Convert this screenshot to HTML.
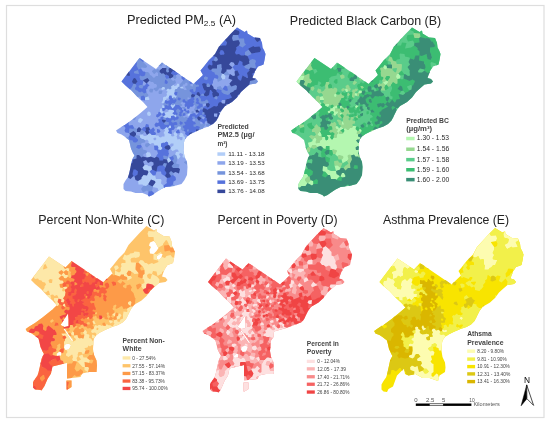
<!DOCTYPE html>
<html><head><meta charset="utf-8"><title>Philadelphia maps</title>
<style>
html,body{margin:0;padding:0;background:#fff;width:550px;height:424px;overflow:hidden}
svg{display:block}
text{font-family:'Liberation Sans',Arial,sans-serif}
.t{font-size:12.4px;fill:#222}
.lh{font-weight:bold;fill:#444}
.ll{fill:#444}
.sb{font-size:6px;fill:#555}
.na{fill:#000}
</style></head><body>
<svg width="550" height="424" viewBox="0 0 550 424">
<rect width="550" height="424" fill="#fff"/>
<rect x="6.5" y="5.5" width="537.5" height="412" fill="none" stroke="#dedede" stroke-width="1.2"/>
<g transform="scale(0.5)">
<path fill="#8ea6ec" d="M279 116L243 163L251 171L263 181L275 194L286 204L295 214L281 226L266 238L251 249L238 257L232 261L235 266L243 269L249 273L258 280L260 288L262 297L266 306L269 311L266 316L264 321L261 335L258 348L256 354L251 361L247 368L247 378L251 382L262 383L271 386L285 386L295 390L298 393L305 390L312 385L321 379L331 374L340 373L352 371L363 368L369 360L374 350L375 334L374 324L369 313L367 301L368 285L369 280L374 273L381 268L391 263L405 257L417 253L426 248L433 241L438 231L443 221L450 212L459 207L464 204L474 195L482 184L492 175L499 169L512 167L516 163L512 158L505 156L507 150L510 142L516 133L522 131L527 129L529 120L531 108L529 103L525 95L524 86L520 76L508 75L495 67L494 61L489 64L474 55L461 68L449 81L438 93L430 108L418 120L407 134L401 141L406 150L387 168L324 125L312 138Z"/>
<path fill="#b2cef8" d="M298 200L299 198L296 192L289 194L290 200ZM301 225L298 223L297 223L294 226L295 231L299 232L302 230ZM286 239L281 236L277 238L276 244L281 246L286 240ZM294 269L293 272L288 272L284 268L282 268L279 272L279 275L284 279L286 278L290 281L294 279L297 282L297 286L300 289L304 286L308 287L309 292L314 292L316 295L315 299L323 301L326 295L323 292L323 288L327 286L328 287L333 284L335 285L336 291L338 292L342 287L347 287L347 288L347 291L341 295L340 297L345 302L350 300L351 299L355 299L358 303L352 304L350 310L352 311L354 319L356 319L361 313L358 309L360 306L366 308L365 314L366 315L370 315L369 313L367 301L368 285L369 280L371 277L372 275L367 272L367 269L364 266L361 266L358 272L360 274L365 274L365 279L362 281L359 278L355 279L353 272L354 272L355 267L352 263L350 263L347 267L349 272L344 273L342 271L342 267L336 266L339 262L338 258L342 256L343 252L341 250L339 250L336 255L332 253L328 258L330 261L327 266L329 268L329 273L324 273L322 275L318 274L317 271L312 271L311 269L304 269L303 267L299 265ZM307 276L311 275L313 278L310 281L307 279ZM302 310L300 305L293 304L292 306L293 315L300 315L302 313ZM294 350L287 349L282 355L282 357L276 361L277 369L285 369L287 372L293 373L298 369L298 368L303 360L309 362L310 365L304 373L305 374L315 376L317 381L318 381L321 379L328 375L327 371L322 367L323 360L321 358L312 358L310 350L306 350L300 343L305 339L304 333L296 332L295 330L289 330L284 335L288 341L294 342L296 344ZM325 173L322 177L324 180L330 178L330 174L329 173ZM332 180L335 183L335 184L333 187L334 190L331 194L330 193L326 195L326 200L323 206L328 207L330 205L331 202L332 201L333 197L338 197L339 192L343 192L344 197L346 197L348 195L351 197L354 194L353 190L350 190L349 187L351 184L350 182L352 178L355 179L357 174L360 174L361 177L366 178L367 176L364 172L360 173L359 169L356 167L354 168L353 171L349 172L346 169L341 172L342 177L340 178L336 176ZM324 228L327 225L327 223L326 222L325 217L330 217L330 211L328 210L324 211L325 217L321 217L320 218L320 222L318 224L323 228ZM326 234L332 237L335 236L337 237L341 237L343 235L343 233L348 232L349 235L351 235L354 233L353 229L350 229L349 229L346 227L348 224L349 221L345 219L344 219L339 218L337 220L337 223L328 226L330 230L326 232ZM333 319L335 326L336 326L344 322L339 315L337 314ZM345 218L349 215L352 210L349 207L346 210L343 207L342 208L340 211ZM451 151L447 147L443 147L441 154L444 159L450 158ZM375 231L379 233L382 228L377 226L376 226ZM363 254L361 252L355 252L353 256L356 260L357 260L362 258ZM384 264L384 265L384 266L389 264Z"/>
<path fill="#7694dc" d="M267 142L268 146L269 148L279 149L276 139L282 137L283 135L291 136L294 134L294 132L281 118L282 118L279 116L272 125L273 128L272 131L276 139ZM281 161L287 162L294 157L302 164L306 164L309 168L312 168L314 171L313 175L308 176L307 178L312 183L317 180L317 178L320 176L323 177L325 174L329 174L330 178L332 180L336 177L340 179L343 177L342 173L352 166L351 162L350 160L346 162L341 157L338 155L333 157L331 153L332 150L326 145L324 147L320 144L320 140L315 138L312 140L309 138L304 142L304 143L308 148L309 148L313 144L316 146L316 152L312 152L308 156L305 154L304 152L300 150L299 147L296 144L290 144L290 150L285 153L280 150L278 154ZM329 167L331 161L332 160L335 164L333 167ZM287 192L290 195L296 193L297 190L293 185L288 186L285 182L280 185L277 184L276 181L271 179L271 176L274 172L271 167L266 166L263 173L260 178L263 181L275 194ZM280 169L276 172L279 177L286 178L287 172L285 169ZM266 240L270 240L273 233L266 238L265 239ZM272 266L275 263L274 258L268 255L266 257L259 257L257 266L259 268L267 263ZM283 258L282 258L279 264L282 269L284 269L290 263ZM284 278L280 275L280 272L272 270L268 273L275 280L275 282L272 284L267 285L265 281L259 279L258 274L251 275L258 280L260 288L262 297L266 306L269 311L266 316L266 317L266 320L273 318L274 312L275 311L278 311L282 316L286 314L287 308L293 306L294 304L293 301L286 299L285 294L284 294L278 297L273 295L275 291L282 290L283 286L290 285L291 281L286 278ZM297 286L291 287L290 292L294 295L301 289ZM306 374L305 372L297 368L292 372L287 371L282 378L286 385L294 381L298 384L304 382ZM323 133L326 128L327 127L324 125L317 132ZM334 146L339 144L338 138L339 137L342 137L332 130L331 136L332 137L331 142ZM307 178L301 177L299 179L298 182L301 185L305 185ZM318 181L317 186L318 188L323 188L325 183L324 181ZM346 211L349 208L351 211L357 210L358 213L360 214L365 210L361 207L362 205L365 204L366 200L368 199L369 199L371 203L375 204L376 203L376 200L375 198L375 195L378 195L380 198L383 197L384 194L383 191L385 189L384 184L381 183L380 182L381 179L385 179L386 183L389 184L392 183L393 175L399 174L399 171L396 168L392 169L389 166L387 168L386 167L386 173L381 172L381 167L379 165L380 163L369 156L369 160L367 160L363 165L359 169L359 173L356 174L354 178L351 178L349 182L350 185L354 185L353 190L353 194L351 196L348 194L345 197L347 201L351 199L352 200L352 202L349 206L345 205L342 208ZM360 174L365 173L366 169L369 169L372 165L375 167L375 171L371 172L370 174L373 178L373 180L369 180L366 177L361 177ZM356 198L357 196L359 195L361 197L361 198L359 200L358 200ZM327 206L327 211L330 212L333 211L335 213L338 211L338 207L336 206L333 207L330 205ZM333 236L326 234L325 240L331 241ZM353 245L354 248L354 250L348 249L347 252L349 256L354 256L356 253L361 253L362 254L361 258L365 262L368 261L369 257L366 254L368 251L372 251L372 250L370 245L374 244L374 240L375 239L376 236L372 233L369 235L367 235L366 231L368 226L366 224L363 225L362 228L363 230L361 232L358 230L360 227L359 225L362 223L362 220L359 219L356 216L351 221L352 225L354 226L354 228L352 230L353 234L355 234L357 236L354 239L352 238L349 241L346 238L342 241L341 243L343 246L348 246L349 245ZM360 243L365 245L365 247L361 249L360 247ZM327 247L329 250L332 251L333 250L339 250L337 243L334 243L332 242L327 245ZM328 310L325 312L327 319L334 319L337 315L336 312ZM324 331L331 336L335 326L328 325ZM347 345L341 341L337 346L341 352L347 351ZM346 368L339 372L339 373L340 373L350 372ZM345 154L350 159L353 155L352 151L346 150ZM357 337L359 329L352 327L355 319L355 318L353 311L350 309L346 310L345 312L347 318L344 322L347 327L342 331L346 337ZM388 204L385 207L387 210L390 210L391 213L390 215L388 220L391 222L395 220L396 217L394 214L398 211L399 209L392 206L394 204L393 199L395 197L397 201L396 203L399 208L403 207L405 209L410 207L412 208L417 207L418 202L415 198L413 198L410 199L409 202L404 202L403 200L403 198L399 193L399 192L394 189L389 190L389 192L387 194L388 199L386 201ZM365 214L364 216L368 218L371 218L370 214ZM384 229L388 227L387 222L383 223L383 228ZM372 222L371 222L368 226L371 229L375 227ZM386 254L392 255L393 253L396 252L399 254L396 259L397 260L404 258L406 256L411 249L409 248L406 247L402 249L400 246L400 243L399 241L397 240L395 235L391 236L389 232L385 232L383 234L385 238L390 238L390 241L389 243L391 247L390 248L386 249ZM373 259L373 264L377 264L380 260L376 257ZM368 324L368 325L373 329L374 329L374 324L373 323L373 321ZM493 89L490 85L489 76L479 76L477 69L465 70L463 76L466 83L476 81L479 86L478 91L485 97ZM494 112L503 108L504 107L498 99L489 103L489 111ZM432 124L436 121L435 114L430 112L426 121ZM501 136L511 137L513 135L511 126L513 124L512 119L505 117L498 121L497 123L498 127L488 131L489 137L499 139ZM424 136L422 139L423 144L428 145L430 150L434 150L436 154L434 157L435 162L436 164L445 159L442 154L444 147L443 145L445 137L443 135L444 128L442 127L433 130L434 136ZM447 147L450 151L459 150L459 149L453 141ZM408 155L407 158L408 160L414 161L417 156L416 154L411 153ZM508 160L499 161L498 168L498 169L499 169L512 167L516 163L512 158L511 157ZM412 172L413 175L419 175L421 170L416 165L412 168ZM452 182L446 177L445 178L441 172L434 174L434 179L442 181L442 185L448 189L449 189L456 191L461 188L461 187L468 184L469 182L474 180L475 171L471 169L463 172L460 170L453 173L455 181ZM409 191L409 188L404 186L400 190L399 192L407 193ZM434 200L436 197L436 192L432 191L427 194L429 197ZM399 217L401 220L405 220L408 217L407 214L406 213L400 214ZM410 229L410 224L406 223L404 225L404 229L400 229L398 233L402 237L403 237L406 232L406 231ZM414 253L417 253L422 250L421 247L416 246L411 250Z"/>
<path fill="#5672dc" d="M288 122L281 117L280 119L286 124ZM252 151L243 163L251 171L260 179L264 174L267 167L265 163L268 158L271 158L274 163L271 168L273 172L270 176L270 179L276 182L277 184L280 185L284 183L288 187L293 185L292 179L295 177L295 174L299 171L294 166L293 166L290 171L287 171L285 177L279 176L277 172L280 170L285 170L287 161L281 160L279 154L280 151L285 153L290 151L291 145L289 143L286 143L282 137L277 139L273 131L274 128L273 124L258 144L259 150L259 151ZM268 146L268 143L276 140L278 148L270 147ZM290 200L290 194L287 191L281 193L282 200L290 201ZM317 224L316 228L313 229L312 233L315 235L320 232L324 228L319 223ZM241 255L248 252L251 256L249 261L251 265L258 266L259 257L267 258L268 255L265 250L258 251L257 248L258 244L251 249L241 255ZM320 253L321 257L325 259L329 258L333 254L336 256L339 251L341 251L342 252L342 256L336 257L338 262L336 265L336 266L342 268L344 267L343 261L345 260L347 260L350 256L348 252L349 250L354 250L355 248L353 244L349 244L348 245L344 245L342 242L346 239L349 242L352 239L354 240L358 236L356 233L353 233L351 235L350 234L348 231L342 232L342 235L341 237L337 236L336 235L334 235L332 236L331 240L331 242L334 244L337 244L338 249L332 250L329 249L328 247L328 245L325 241L326 239L327 234L326 233L331 230L329 226L327 225L324 228L326 233L321 234L321 237L316 239L318 244L316 246L312 245L309 249L310 253L314 254L317 252ZM289 263L290 263L293 261L292 255L298 254L297 249L292 248L290 254L287 254L283 259ZM298 266L302 268L303 270L311 270L312 266L308 263L310 260L307 255L306 255L302 259L299 258L296 261ZM260 269L257 274L259 280L265 281L267 285L272 285L276 282L276 279L269 273ZM282 290L275 290L272 295L278 298L284 294ZM316 307L313 311L313 314L317 317L319 322L326 322L328 319L326 312L328 311L336 313L338 307L337 305L337 299L331 297L330 295L332 293L337 291L336 285L333 283L328 286L327 285L322 287L322 293L325 296L322 300L316 299L317 295L315 291L309 291L308 292L309 300L314 301ZM267 320L266 316L264 321L262 330L266 325L265 321ZM313 343L322 343L323 348L331 353L334 346L330 340L332 337L331 335L325 330L319 330L314 332L312 342L305 338L299 343L306 351L310 351L311 350ZM269 353L275 350L277 343L276 341L271 338L266 338L264 348L267 353ZM297 383L296 391L298 393L305 390L308 388L308 386L304 382ZM330 153L333 158L339 156L339 151L333 148L331 150ZM332 159L330 160L329 167L334 168L336 164ZM329 205L333 208L336 207L337 207L337 211L336 212L333 210L329 211L329 216L325 216L324 217L325 222L326 223L331 220L331 218L333 218L338 220L339 219L345 220L348 221L348 224L345 226L345 227L349 230L350 229L353 230L355 229L355 226L353 225L352 221L356 217L358 219L361 221L361 223L358 225L359 227L357 230L361 233L364 231L363 228L364 225L366 225L367 221L371 223L372 223L375 227L376 227L378 227L379 223L377 220L373 222L372 218L370 217L368 218L367 221L364 219L364 216L361 214L358 210L351 210L348 214L345 217L341 211L345 206L349 207L353 202L353 199L351 198L347 200L346 197L344 196L343 191L339 191L337 196L339 199L340 200L335 202L332 200L330 201ZM321 263L319 259L314 258L314 265L318 266ZM344 322L348 318L346 312L338 315L343 322ZM346 369L347 363L351 361L352 359L351 354L346 350L341 352L340 354L334 355L333 363L334 366L327 371L328 376L331 374L340 373ZM345 140L341 146L342 147L347 150L351 151L356 148L360 150L361 150L348 141ZM367 161L369 160L370 156L363 152L363 157ZM354 190L355 184L350 184L348 186L350 191L353 191ZM362 198L361 196L359 195L356 195L355 199L358 201L359 201ZM370 214L374 213L374 217L377 218L379 217L380 214L382 213L384 214L388 210L386 207L389 204L387 201L389 199L388 194L383 194L382 197L375 200L375 202L375 203L371 202L370 199L368 198L365 200L365 203L366 205L369 205L371 208L369 209ZM369 226L367 226L365 231L366 232L371 231L371 228ZM367 251L365 254L369 258L367 261L371 264L370 268L374 271L373 274L371 275L370 279L374 273L379 270L379 267L385 265L388 265L391 263L393 262L393 260L397 260L400 254L396 252L392 252L391 254L387 253L387 249L390 249L392 247L389 243L387 243L384 240L386 238L384 234L385 233L389 233L391 237L395 236L396 234L398 234L400 230L405 230L404 226L407 223L406 219L401 219L397 225L397 226L393 230L391 229L391 227L388 226L384 228L381 228L378 233L379 234L375 236L375 239L373 240L373 243L368 244L371 250ZM374 260L376 258L378 260L377 263L374 263ZM361 250L365 248L366 245L360 242L359 247ZM358 259L356 259L351 264L354 267L360 266ZM392 170L396 169L398 171L398 173L392 174L391 182L389 184L387 183L386 178L380 179L379 182L381 184L383 185L384 189L388 190L390 191L394 189L395 186L398 185L400 191L405 187L408 189L412 185L411 181L409 180L405 168L408 167L413 169L416 166L421 171L423 170L426 166L426 163L426 162L429 156L435 158L437 154L435 150L430 149L429 145L424 143L422 139L419 138L416 134L419 130L424 132L426 130L425 122L427 121L431 113L430 112L427 112L418 120L407 134L401 141L406 150L389 166ZM416 156L414 160L409 159L408 158L408 155L411 153L416 155ZM381 168L386 167L379 162L379 166ZM402 198L402 201L403 203L410 202L411 200L414 199L417 203L416 207L419 209L417 213L414 214L412 211L406 214L407 217L412 219L413 221L420 218L420 217L426 215L427 213L428 213L433 214L437 211L437 208L439 206L442 205L444 200L451 200L455 198L457 199L465 195L460 187L456 190L449 188L448 188L443 184L443 180L434 178L433 180L432 184L437 187L437 190L435 192L435 197L433 199L429 197L428 194L426 193L425 188L427 186L423 179L421 179L419 180L417 189L413 193L408 191L407 192L400 191L398 193ZM392 207L398 209L397 211L393 214L395 218L400 217L401 215L406 213L405 208L403 207L400 207L397 203L398 201L396 196L394 196L392 198L393 203L391 206ZM404 244L406 247L409 248L410 243L415 242L413 236L412 235L413 229L410 228L405 230L405 232L410 235L407 239L403 236L402 236L398 241L400 243ZM444 92L452 92L454 85L451 80L455 75L449 81L440 91L444 91ZM406 256L405 256L404 258L405 257L407 256ZM489 86L492 89L485 95L478 91L472 94L472 98L469 105L472 110L478 109L481 112L488 112L490 111L490 104L498 99L498 98L507 93L509 95L519 94L521 99L520 103L503 106L503 108L494 112L498 121L505 118L511 120L512 124L510 126L512 135L510 137L511 141L516 133L522 131L527 129L529 120L531 108L529 103L529 102L525 95L524 86L521 79L515 83L513 83L510 78L512 75L508 75L495 67L494 61L489 64L474 55L470 60L477 63L478 66L476 70L478 77L488 77ZM441 101L438 106L441 111L449 109L450 107L448 101L444 99ZM475 142L478 150L475 153L475 159L480 162L483 161L485 152L496 156L496 155L495 146L499 141L499 139L490 136L488 131L486 130L486 123L478 119L474 129L470 129L465 134L471 143ZM505 146L504 150L506 152L507 150L510 144ZM510 158L512 158L509 157ZM445 178L452 182L456 181L454 173L450 171ZM477 189L474 190L474 194L478 189Z"/>
<path fill="#36489a" d="M326 146L331 150L333 149L338 152L338 156L341 157L346 154L347 150L342 147L342 146L346 141L350 144L351 143L341 136L339 136L337 138L338 144L334 145L332 142L333 137L332 136L324 136L324 137L320 140L319 144L324 148ZM259 152L260 150L258 143L252 151ZM299 161L295 156L287 160L286 161L293 167L294 166ZM266 167L271 168L275 163L271 157L269 156L267 157L264 163ZM332 242L331 240L326 239L324 240L324 242L328 246ZM299 266L297 261L300 259L298 254L291 255L292 261L290 263L294 270ZM274 264L280 264L283 258L278 254L274 258ZM272 266L267 262L259 267L260 270L268 274L272 270ZM339 291L337 290L331 292L329 295L331 298L337 300L341 297L341 295ZM307 325L307 330L303 333L304 339L313 343L315 333L319 331L325 331L328 326L334 327L329 340L333 346L330 352L334 356L340 355L342 352L338 346L342 342L347 346L351 344L358 347L360 338L357 336L346 336L343 332L348 327L344 321L343 321L336 326L334 319L327 318L326 321L319 321L318 316L313 313L309 316L301 313L299 314L294 315L286 313L283 315L278 310L275 310L273 311L273 317L266 319L265 321L265 325L262 328L261 335L258 348L256 354L256 355L261 358L267 352L265 348L267 339L271 339L275 342L276 343L275 349L269 353L271 360L276 362L283 358L283 355L287 350L294 351L297 344L295 341L288 340L285 335L289 330L286 323L292 320L296 326L302 323ZM305 373L311 365L310 362L302 359L297 367L297 369ZM418 139L422 140L425 137L434 137L434 130L442 128L443 129L443 135L444 137L442 145L444 147L447 148L453 142L453 139L461 139L465 135L458 129L462 124L467 125L470 130L475 130L479 121L485 124L485 130L488 132L499 127L498 123L499 121L495 112L489 110L488 111L482 111L478 108L472 109L470 105L473 98L472 95L478 91L480 86L477 80L466 82L464 76L466 70L477 70L479 66L478 62L470 59L461 68L454 76L450 80L454 85L452 91L441 91L438 93L430 108L426 112L430 113L434 115L436 120L432 123L427 121L424 122L425 129L424 131L418 129L415 134ZM449 107L448 109L441 110L439 106L441 101L444 100L447 102ZM409 181L411 181L411 184L408 188L408 191L413 193L418 190L420 180L421 180L422 180L426 186L424 187L426 194L428 195L432 192L435 193L438 191L438 187L433 183L433 180L427 177L427 174L423 169L421 170L419 174L414 174L413 172L413 168L408 166L404 168L406 174L406 175ZM401 190L398 184L394 185L393 189L399 193L400 192ZM384 188L382 191L383 195L388 194L390 192L390 190L389 189ZM412 207L412 211L414 215L418 214L420 209L417 206ZM409 229L412 230L411 235L413 236L415 246L420 248L421 250L426 248L433 241L435 237L436 236L438 231L440 227L437 225L442 223L443 221L450 212L453 211L452 209L458 208L459 207L464 204L474 195L475 193L475 191L477 189L478 190L482 184L492 175L499 169L499 168L500 162L509 160L511 158L511 157L505 156L506 151L505 150L505 147L509 145L510 142L512 140L511 137L501 135L498 139L499 141L494 146L496 155L495 156L485 151L482 161L480 161L476 158L475 153L479 150L475 141L471 142L469 143L470 151L466 152L460 148L459 149L457 157L465 160L459 167L460 170L463 173L471 170L474 172L473 179L468 181L467 183L460 186L460 188L464 195L457 198L455 198L451 199L450 207L445 207L442 204L438 205L436 208L436 211L433 213L428 212L426 213L425 214L414 220L413 218L407 216L405 220L406 224L409 225ZM434 234L428 233L428 227L435 227ZM398 225L399 224L395 219L391 221L392 225ZM403 236L398 233L396 233L394 236L397 241L399 241ZM397 259L392 259L392 263L398 260ZM377 270L381 268L385 266L385 264L379 266L377 270ZM521 80L520 76L511 75L509 77L513 83L515 84ZM503 107L520 104L522 99L519 93L509 94L507 92L497 97L497 99Z"/>
</g>
<g transform="scale(0.5)">
<path fill="#5acc8a" d="M629 116L593 163L601 171L613 181L625 194L636 204L645 214L631 226L616 238L601 249L588 257L582 261L585 266L593 269L599 273L608 280L610 288L612 297L616 306L619 311L616 316L614 321L611 335L608 348L606 354L601 361L597 368L597 378L601 382L612 383L621 386L635 386L645 390L648 393L655 390L662 385L671 379L681 374L690 373L702 371L713 368L719 360L724 350L725 334L724 324L719 313L717 301L718 285L719 280L724 273L731 268L741 263L755 257L767 253L776 248L783 241L788 231L793 221L800 212L809 207L814 204L824 195L832 184L842 175L849 169L862 167L866 163L862 158L855 156L857 150L860 142L866 133L872 131L877 129L879 120L881 108L879 103L875 95L874 86L870 76L858 75L845 67L844 61L839 64L824 55L811 68L799 81L788 93L780 108L768 120L757 134L751 141L756 150L737 168L674 125L662 138Z"/>
<path fill="#b4f7b0" d="M600 168L602 161L607 160L610 152L609 151L602 151L593 163L597 167ZM649 198L646 192L639 194L640 200L648 200ZM643 207L640 204L637 205L642 210ZM655 215L659 210L658 208L652 207L649 209L649 211ZM660 227L662 224L665 223L667 224L666 228L670 232L673 228L674 228L677 225L677 223L676 222L670 222L670 218L671 217L675 217L676 216L675 211L672 210L670 212L667 212L664 216L663 216L660 217L659 220L655 221L655 225L657 228ZM634 269L638 273L644 273L644 269L640 262L639 263ZM656 279L653 280L651 279L651 273L644 273L643 279L640 281L639 285L632 286L632 284L634 278L629 274L625 280L625 282L622 284L617 285L616 286L618 294L621 296L623 295L625 291L631 291L633 294L634 295L641 292L644 294L645 297L652 299L653 292L658 292L659 300L664 301L666 299L672 301L673 302L670 308L674 312L676 313L678 311L686 313L686 315L683 319L685 326L686 326L693 322L694 322L698 318L696 312L697 310L700 310L702 311L708 310L710 314L716 314L718 304L717 301L717 300L713 299L712 295L715 293L718 294L718 285L717 286L713 281L715 279L719 280L721 277L722 275L717 272L717 269L714 266L716 261L712 258L713 254L711 252L705 252L703 256L699 256L697 259L695 259L692 256L687 257L686 255L682 253L678 257L676 253L672 252L670 253L671 257L675 259L673 263L676 266L673 270L673 273L672 275L667 274L665 278L663 278L661 275L662 271L661 269L653 270L653 272L656 276ZM681 261L687 257L688 262L685 267L680 267L678 266ZM660 351L662 359L671 359L673 361L680 353L684 356L690 355L692 352L688 345L683 346L680 351L674 347L673 342L680 340L682 337L681 335L675 330L669 331L672 342L662 342L655 339L654 333L645 331L644 341L647 344L650 344L656 351ZM600 363L599 363L597 368L597 375L599 376L601 376L603 373L611 373L615 367L624 372L627 369L627 361L622 360L615 366L611 361L611 358L617 352L614 348L608 347L608 348L606 354L601 361L600 363ZM673 187L668 187L667 193L670 195L673 194L674 189ZM679 216L681 218L683 218L686 213L683 210L679 211ZM685 229L684 224L678 226L680 231L681 231ZM697 182L695 177L692 177L690 178L690 180L693 185ZM682 250L689 250L687 243L684 243ZM765 134L768 139L772 140L775 136L774 131L768 129ZM797 147L793 147L791 154L794 159L800 158L801 151ZM775 161L773 160L766 164L765 166L771 171L773 170L776 166L776 163ZM725 182L723 180L719 180L716 186L720 188L724 187ZM709 186L708 190L709 191L715 192L715 187ZM715 216L716 214L715 210L714 210L710 213L710 215L714 217ZM724 263L724 259L720 257L719 257L717 261L722 265Z"/>
<path fill="#96d890" d="M626 140L627 139L623 131L624 128L623 124L611 140L617 141L618 143ZM606 169L613 174L614 174L616 167L621 168L625 163L621 157L620 157L620 148L618 146L610 149L608 143L602 151L609 152L606 160L609 163ZM651 177L649 179L648 181L643 184L642 179L636 177L634 183L638 187L643 186L646 190L645 193L648 198L646 207L649 210L653 208L658 208L658 210L661 211L665 210L667 213L670 213L672 211L675 212L678 211L678 207L680 205L681 202L682 201L683 197L688 197L690 192L689 190L685 190L683 187L680 187L678 189L673 188L673 193L670 194L668 192L669 188L673 188L675 183L674 181L675 180L673 176L669 175L666 178L663 175L658 176L657 171L660 168L657 163L652 163L650 170ZM602 170L600 167L596 166L601 171L601 172ZM627 172L624 172L620 176L620 179L626 182L629 177ZM631 200L636 204L638 206L640 205L640 194L637 191L632 193ZM601 257L608 255L608 251L607 248L602 248L601 249L597 251ZM638 254L633 248L628 254L624 258L624 264L629 264L632 269L629 272L622 270L618 273L625 280L630 275L633 279L631 284L632 287L640 285L640 281L644 279L645 273L643 272L638 272L635 269L639 263L640 263L643 261L642 255L640 254ZM634 294L632 290L625 290L622 295L628 298ZM613 296L612 297L616 305L620 303L621 295L618 294ZM622 360L620 352L617 352L610 358L610 361L615 367ZM675 217L671 217L670 218L670 223L675 223L676 223L677 225L674 228L676 233L676 234L682 237L684 235L680 230L679 226L683 225L684 229L686 230L687 233L685 235L686 237L686 243L688 249L683 249L684 243L682 242L681 240L676 239L674 240L674 242L677 245L677 247L679 250L681 250L682 254L686 256L686 257L692 257L694 260L697 260L700 256L704 256L706 253L705 250L705 248L710 247L710 242L705 241L705 239L708 236L706 233L703 233L700 235L702 238L699 241L697 239L697 237L700 235L698 231L693 232L693 229L695 227L699 230L700 229L701 226L698 224L699 221L696 219L696 217L692 213L689 216L685 212L682 217L687 220L687 223L684 224L681 220L682 218L679 216L675 216ZM660 253L663 254L664 259L659 259L657 263L662 267L664 265L668 266L669 268L666 272L667 275L673 276L674 273L673 270L677 266L674 263L676 259L671 257L671 253L672 253L673 248L670 244L668 244L666 246L662 245L659 249ZM666 308L671 308L674 302L673 300L666 299L664 300ZM686 312L678 310L675 312L677 319L684 319L687 315ZM676 321L669 322L668 323L669 331L675 331L681 336L685 326L678 325ZM681 150L680 153L683 158L689 156L689 151L683 148ZM702 178L699 175L699 173L696 169L691 172L692 177L695 178L696 182L699 183ZM691 178L686 176L682 180L685 183L690 180ZM701 190L699 186L694 186L694 191L698 192ZM706 196L709 195L710 185L711 183L714 182L716 178L711 177L709 179L705 179L703 190L703 194ZM686 267L687 266L686 265L682 260L681 260L677 266L679 268ZM691 331L686 337L691 342L696 337L701 337L701 328L705 319L705 318L703 311L700 309L696 310L695 312L697 318L694 322L697 327L692 331ZM826 70L828 77L839 77L842 74L841 66L828 65ZM772 139L769 138L766 134L762 134L759 137L761 143L761 145L761 153L766 155L766 156L764 161L766 165L774 161L771 157L774 153L778 153L779 155L775 162L776 163L776 165L772 170L777 174L782 171L782 170L786 165L792 169L796 168L796 159L792 154L794 147L797 148L803 142L804 129L802 128L794 128L793 127L792 122L786 120L785 114L780 112L776 121L782 124L782 129L783 130L784 136L774 136ZM789 144L785 140L785 137L793 136L794 137L792 145ZM705 148L710 150L711 150L705 146ZM721 161L725 160L719 156L719 160ZM714 164L708 161L705 168L709 170L714 165ZM754 168L757 175L762 173L763 174L761 181L770 181L771 179L769 175L771 170L766 165L762 168L758 166ZM729 175L729 174L725 171L721 172L720 174L723 179ZM714 187L714 191L715 193L719 192L720 187L717 185ZM710 235L715 238L717 236L716 231L715 230L713 230L711 232ZM747 259L742 259L742 263L748 260ZM721 268L722 264L717 260L715 261L713 267L716 269ZM720 315L719 313L718 308L717 308L715 314L716 315Z"/>
<path fill="#3cbd72" d="M617 140L611 139L608 144L609 151L618 147L619 148L619 157L621 158L624 163L621 167L616 166L613 174L620 176L624 173L627 173L630 170L635 170L637 162L643 166L639 171L644 174L649 171L650 171L652 164L657 164L659 159L658 157L663 153L673 151L674 147L676 146L681 150L684 149L685 145L681 142L677 143L674 137L682 137L683 138L688 138L689 137L689 135L677 127L675 127L673 133L674 137L670 140L666 138L666 134L662 138L629 116L622 125L623 128L622 131L626 139L618 142ZM632 138L635 143L629 148L626 139ZM638 223L639 225L637 231L640 235L646 231L649 232L651 230L656 231L658 227L655 224L656 222L660 221L661 217L650 211L650 209L647 206L643 207L641 210L645 214L634 224ZM632 230L631 226L622 233L623 233ZM607 249L608 244L601 249L600 249ZM624 259L629 255L629 254L624 250L624 245L616 247L614 250L618 256ZM583 262L585 266L589 266L594 260L592 255L598 252L598 250L588 257L583 261ZM644 274L650 274L651 280L653 281L656 279L657 275L654 271L654 270L661 270L662 271L660 275L663 279L665 279L668 274L667 272L669 268L668 266L664 264L662 266L658 263L660 260L665 259L664 253L660 252L652 259L650 258L648 254L641 255L642 261L640 263L643 269L643 272ZM599 261L601 265L608 266L609 257L608 254L601 256ZM611 293L612 297L613 298L614 296ZM642 306L643 315L649 315L652 323L657 325L659 324L660 316L652 313L652 310L650 306L653 300L658 301L657 308L663 312L666 308L664 300L659 300L659 292L652 292L651 298L645 296L642 302L643 304ZM627 343L626 341L621 338L616 338L610 339L608 348L614 348L617 353L619 353L625 350ZM627 369L635 369L637 360L633 357L626 361ZM670 159L667 164L672 168L675 166L675 159L674 158ZM662 168L659 167L656 171L657 177L664 176L664 171ZM679 189L680 187L679 184L674 183L672 187L673 189ZM687 196L683 196L681 201L680 201L679 205L682 208L682 211L689 217L696 212L698 214L695 217L695 220L698 221L698 224L700 226L702 225L704 226L707 224L708 225L709 227L707 229L705 228L703 229L700 229L698 229L697 232L699 235L701 235L703 234L706 234L708 231L711 233L714 231L713 228L714 225L719 227L722 223L718 221L719 218L721 218L720 214L724 213L725 212L725 208L721 208L719 209L719 213L715 214L713 216L713 219L712 220L708 218L711 215L710 213L708 212L705 215L704 215L701 215L699 214L702 210L699 208L699 206L700 204L698 200L701 199L703 200L706 199L707 196L704 194L704 191L705 184L700 184L698 186L700 190L698 191L698 195L695 197L697 200L694 202L691 201L690 199L694 197L693 192L694 191L695 186L693 184L689 186L685 184L683 187L684 190L689 192ZM665 209L661 211L662 216L664 217L668 212ZM678 210L674 211L675 217L680 217L680 211ZM688 223L688 220L683 217L681 217L680 220L684 225ZM659 227L663 230L667 228L668 224L665 222L661 223ZM686 236L687 233L687 230L684 228L680 230L684 236ZM658 237L657 233L650 236L652 241L655 242ZM687 257L681 261L686 266L689 262ZM657 351L650 343L646 343L643 351L645 354L651 356ZM684 363L685 355L680 352L672 360L673 361ZM700 143L696 150L695 154L700 159L703 155L707 156L710 150L710 149L706 147L706 146L700 143ZM724 183L730 182L731 179L736 179L737 178L737 174L741 173L743 175L749 174L749 172L758 167L759 160L764 161L767 156L766 154L762 153L761 145L762 143L760 137L762 135L766 135L769 130L774 132L776 130L775 122L772 121L772 117L768 120L757 134L751 141L756 150L745 161L745 162L742 163L737 168L729 162L729 165L726 167L722 164L719 168L716 168L714 172L716 176L716 178L719 181L723 181ZM721 174L721 172L725 172L728 175L724 178ZM724 186L719 187L718 191L720 194L723 194L725 195L728 195L730 191L732 191L735 189L738 190L740 191L744 189L745 185L742 182L739 184L736 183L734 184L731 183L728 189L725 188ZM716 236L720 236L722 233L721 230L715 231ZM716 239L716 237L711 234L708 236L710 242ZM718 261L719 257L723 260L723 263L722 264L720 268L724 271L723 274L724 273L731 268L741 263L743 262L743 260L747 260L750 254L751 254L755 256L756 256L760 250L761 250L766 246L765 241L760 242L758 247L756 247L752 249L750 246L750 243L754 244L757 240L753 236L756 232L761 236L762 235L763 229L760 228L760 225L764 222L764 221L776 215L777 213L771 209L775 204L780 207L783 200L788 206L792 205L794 200L801 199L798 189L803 182L796 178L800 172L803 173L805 181L807 182L811 187L818 184L819 182L814 174L814 173L821 170L825 172L827 171L831 161L825 158L819 162L816 159L808 157L804 159L800 157L795 158L795 167L792 168L786 164L782 170L782 171L784 175L784 178L783 180L782 183L780 185L781 192L785 193L785 197L783 199L779 197L774 202L773 201L772 195L767 189L763 193L758 191L757 192L750 191L745 196L740 191L738 194L733 194L732 197L730 198L731 204L734 207L735 207L737 210L734 214L740 215L738 220L741 222L745 220L748 224L747 225L742 224L740 227L741 230L743 230L746 234L744 235L741 236L740 238L740 241L744 242L743 246L746 248L746 252L743 252L740 248L736 249L736 253L734 255L733 254L731 253L733 248L729 245L726 246L725 248L728 253L726 255L722 253L719 257L716 253L712 254L711 258L715 262ZM762 208L766 207L769 209L767 213L764 214L762 211L757 214L756 213L755 209L760 207ZM742 205L738 204L737 201L739 199L742 199L743 203ZM717 336L715 330L709 329L706 336L709 339L717 338ZM734 229L738 227L737 222L733 223L733 228ZM780 113L784 115L786 121L791 123L794 119L800 118L799 109L800 107L809 108L810 113L819 115L820 118L828 119L832 112L838 112L838 122L847 124L848 127L850 129L850 135L848 139L849 141L855 147L859 145L860 142L865 134L862 135L861 126L863 124L872 127L873 131L877 129L879 120L881 108L879 103L879 102L875 95L874 86L870 76L858 75L845 67L844 61L839 64L824 55L820 60L827 63L828 66L840 67L841 74L852 78L853 77L859 78L863 83L865 84L869 92L869 93L859 94L860 105L861 106L864 115L861 119L855 117L853 107L844 112L840 110L840 103L836 99L835 96L828 91L822 95L810 97L813 86L804 85L802 91L791 91L788 93L781 107ZM779 152L773 152L770 157L773 161L775 162L780 155ZM777 174L773 169L771 170L769 175L770 180L772 180L777 177ZM759 180L757 175L751 176L753 182L754 183ZM787 211L782 213L783 220L784 221L792 215ZM829 76L827 69L815 70L813 76L816 83L826 81L829 87L840 86L839 76ZM805 75L799 81L801 81L805 75ZM797 147L800 151L809 150L809 149L803 141Z"/>
<path fill="#3a8e76" d="M619 186L618 183L621 179L621 176L613 173L607 169L610 163L607 160L601 160L599 167L601 170L601 171L613 181L618 187ZM632 230L631 229L623 232L622 233L627 239L632 237ZM640 246L642 248L640 254L641 255L648 254L649 259L653 260L657 255L654 252L654 249L655 248L660 249L662 245L661 243L656 242L655 241L652 241L651 237L657 234L658 237L662 240L666 238L666 235L663 232L664 229L660 226L657 227L656 230L651 229L649 231L646 230L639 235L644 238L644 242ZM645 294L641 292L634 294L636 299L643 302L646 297ZM623 311L619 311L616 316L616 317L616 320L623 318L625 320L624 327L615 325L612 329L612 330L616 338L621 339L625 342L626 343L625 349L619 353L621 360L626 362L633 358L636 361L635 368L627 368L624 371L615 366L611 372L603 372L600 375L599 375L597 374L597 378L601 382L612 383L621 386L635 386L645 390L648 393L655 390L662 385L671 379L681 374L690 373L696 369L698 372L702 371L713 368L719 360L724 350L725 334L724 324L720 315L717 315L716 313L711 313L708 309L702 311L704 319L700 327L701 336L696 336L691 341L687 336L681 336L680 339L672 342L673 348L681 353L684 346L688 346L691 352L690 354L684 355L683 362L673 360L671 358L662 358L660 350L656 350L651 355L646 353L644 351L647 344L645 341L646 332L654 334L658 330L657 325L652 323L650 314L644 315L636 313L637 307L633 304L628 310L625 310ZM707 336L709 330L715 331L716 337L710 338ZM674 136L674 137L677 144L682 143L683 137L682 136ZM708 159L714 157L714 152L710 149L706 155L703 154L699 158L699 161L701 162L708 162ZM697 200L700 205L703 202L703 199L701 198ZM715 211L717 210L717 205L719 205L721 209L725 209L728 208L731 210L731 213L734 214L734 218L738 221L739 220L740 215L735 213L738 210L736 207L734 207L732 203L731 198L733 197L734 195L738 194L740 192L744 197L746 197L750 192L757 193L759 192L763 193L768 190L768 188L762 184L761 181L764 174L762 172L757 174L754 167L748 171L748 174L749 175L752 177L756 175L758 180L754 182L749 183L747 179L743 180L743 175L741 172L736 173L735 178L736 183L739 184L742 183L744 186L743 189L740 190L739 189L734 188L732 190L729 190L727 194L725 195L723 193L720 193L718 198L715 200L715 203L711 205L710 207ZM680 205L677 206L677 211L680 212L683 211L683 208ZM699 215L699 214L696 211L692 214L695 218ZM715 292L711 295L712 300L717 300L718 293ZM658 308L659 300L653 300L649 305L652 310ZM746 163L745 160L741 164ZM728 190L731 184L730 181L724 182L723 187L725 189ZM738 204L742 206L744 204L742 198L739 198L737 200ZM727 221L727 218L725 217L725 212L720 213L720 218L721 219L722 223ZM749 224L745 219L741 221L742 225L748 225ZM720 228L720 230L722 233L726 231L726 226L725 226ZM756 240L754 243L750 243L749 246L752 250L756 248L759 248L760 243L764 242L765 246L761 249L760 249L756 256L751 253L749 254L746 259L747 260L755 257L767 253L776 248L783 241L785 237L786 236L788 231L793 221L793 220L792 216L796 216L800 212L809 207L814 204L824 195L832 184L842 175L849 169L862 167L866 163L862 158L855 156L857 150L860 144L855 146L849 141L844 145L837 145L836 142L840 137L849 139L851 135L850 129L848 127L848 123L838 121L839 111L831 111L828 119L820 117L817 124L820 129L815 134L820 142L819 143L820 151L816 152L810 148L808 149L807 157L815 160L819 162L825 159L830 162L826 171L824 171L823 179L818 181L817 183L810 186L810 187L806 190L799 188L797 189L800 198L793 199L791 204L789 205L784 199L779 206L775 203L770 209L776 213L775 214L763 220L763 222L759 224L759 229L762 230L761 235L755 231L752 236ZM786 212L791 215L784 220L784 219L783 214ZM740 249L742 247L739 243L736 243L734 248L736 249ZM726 256L729 253L726 248L721 250L722 254ZM725 271L721 267L716 269L716 273L721 275L719 279L715 279L712 281L716 286L718 286L718 285L719 280L723 274ZM717 309L718 309L718 302L716 307ZM794 91L795 86L790 91ZM784 137L784 130L783 129L775 129L773 131L774 136ZM795 178L802 182L806 181L804 173L800 171ZM775 203L779 197L778 194L776 193L771 195L772 201ZM768 214L770 209L767 206L762 207L761 206L754 208L755 213L757 215L762 212L764 215ZM839 111L844 112L853 108L855 118L861 120L864 115L861 105L860 105L860 95L869 94L870 91L865 83L863 83L859 77L853 76L852 77L841 74L838 76L839 85L829 86L828 91L835 96L835 99L839 103Z"/>
</g>
<g transform="scale(0.5)">
<path fill="#fec46a" d="M70 568L82 578L94 591L105 601L114 611L100 623L85 635L70 646L57 654L51 658L54 663L62 666L68 670L77 677L79 685L81 694L85 703L88 708L85 713L83 718L80 732L77 745L75 751L70 758L66 765L66 775L70 779L81 780L83 781L89 772L95 758L102 747L105 733L125 728L134 726L134 747L134 757L153 755L161 754L164 747L178 744L193 744L194 731L193 721L188 710L186 698L187 682L188 677L193 670L200 665L210 660L224 654L236 650L245 645L252 638L257 628L262 618L269 609L278 604L283 601L293 592L301 581L311 572L318 566L331 564L335 560L331 555L324 553L326 547L329 539L335 530L341 528L346 526L348 517L350 505L348 500L344 492L343 483L339 473L327 472L314 464L313 458L308 461L293 452L280 465L268 478L257 490L249 505L237 517L226 531L220 538L225 547L206 565L143 522L131 535L98 513L62 560ZM300 485L307 482L311 485L314 491L317 496L313 502L307 508L300 507L299 500L302 494L298 491ZM314 518L313 513L321 507L325 508L323 515L318 520ZM121 650L136 627L137 639L137 652L129 654ZM144 683L127 658L129 657L146 681ZM128 695L129 689L138 687L142 691L138 699L131 700ZM115 712L113 708L119 703L123 705L122 711ZM133 761L133 779L135 779L140 776L143 774L143 761Z"/>
<path fill="#fde8a8" d="M70 558L76 557L78 560L83 561L85 564L90 565L92 569L89 573L89 576L86 580L87 583L92 585L96 581L98 582L100 590L94 590L94 591L101 598L102 597L101 590L106 589L109 592L114 590L117 595L116 596L109 596L108 597L108 601L111 604L110 607L114 611L113 612L114 613L117 612L119 608L119 606L116 604L117 598L122 599L121 605L127 606L130 600L127 597L131 591L132 584L130 582L126 583L124 581L126 575L121 574L120 568L126 568L129 565L126 560L121 560L118 558L123 552L127 554L128 556L132 557L136 554L135 549L132 549L128 545L132 541L135 543L139 541L139 537L134 535L131 537L128 536L128 533L98 513L67 554ZM99 566L97 561L100 558L105 559L104 566ZM122 549L119 547L118 545L123 541L127 544ZM87 539L86 538L88 530L91 528L95 536ZM127 573L126 575L131 580L136 577L136 575L132 572ZM124 611L129 615L132 613L131 608L128 606ZM142 670L148 671L148 675L151 677L152 680L147 683L146 683L146 681L144 683L134 668L131 668L130 666L122 667L122 669L126 673L130 672L132 675L129 679L129 681L127 683L128 688L127 689L128 697L129 697L128 695L129 689L138 687L142 691L138 699L133 700L135 704L132 708L132 711L137 714L144 709L145 710L146 716L144 718L147 723L154 724L155 723L165 734L169 734L169 740L176 744L177 744L179 735L176 733L170 733L170 725L178 726L180 719L173 715L167 715L165 709L157 712L162 719L155 723L153 716L156 712L155 710L157 704L163 704L165 708L170 707L172 701L169 697L170 696L175 695L177 691L180 693L184 690L187 691L187 682L186 683L182 677L178 676L179 671L178 669L173 668L174 664L171 660L169 660L166 664L168 669L167 676L166 677L163 676L159 676L157 674L156 671L155 670L149 670L149 665L147 663L145 663L142 667ZM145 677L142 675L142 672L139 671L146 681ZM185 642L184 644L186 648L191 648L191 647L188 641L187 641ZM186 657L184 658L182 664L185 666L190 665L193 668L192 671L193 670L200 665L210 660L224 654L236 650L245 645L252 638L254 634L255 633L257 628L262 618L266 612L262 612L264 604L261 601L257 602L255 605L255 608L260 612L253 617L255 622L254 624L247 623L246 630L246 637L244 638L241 639L239 644L235 643L234 639L240 637L240 635L243 631L240 627L236 628L235 631L232 633L233 638L229 639L227 645L229 647L225 653L220 650L218 651L215 649L211 649L210 651L205 650L203 652L202 651L200 650L197 650L195 652L191 650ZM193 660L193 657L195 655L197 657L196 660ZM184 670L184 676L188 677L190 674L191 672L185 669ZM244 526L242 528L243 533L241 536L242 541L240 544L238 545L230 541L230 542L230 550L240 554L243 550L247 550L248 552L253 555L254 559L255 561L264 556L261 551L256 551L254 547L258 542L261 543L263 544L266 545L269 548L278 547L278 546L272 538L273 526L271 525L263 525L262 524L261 519L263 516L269 515L271 516L278 514L280 510L279 504L269 503L267 506L260 507L259 509L253 511L249 509L245 518L251 521L251 526ZM238 536L235 531L231 531L228 534L231 541ZM232 626L229 625L224 627L224 629L230 633L231 632ZM218 643L221 647L226 644L223 640L219 640ZM311 460L309 463L297 462L295 467L297 474L307 474L308 483L311 485L314 491L317 496L317 495L326 490L326 488L332 480L334 481L338 489L337 490L340 496L346 495L344 492L343 483L339 473L327 472L314 464L313 458L311 459ZM307 508L307 519L316 521L317 524L307 528L304 526L297 529L293 526L290 526L286 521L281 520L276 526L283 532L285 532L289 539L288 540L289 548L285 549L284 557L288 559L289 566L282 569L282 572L287 579L293 577L294 569L296 568L305 570L309 573L311 572L318 566L318 565L319 559L314 553L304 548L301 558L299 558L295 555L294 550L298 547L304 548L306 542L313 543L315 552L324 547L324 544L328 542L329 539L335 530L341 528L346 526L348 517L349 515L345 515L341 510L333 512L330 516L324 514L324 512L323 515L318 520L314 518L313 513L321 507L323 507L322 504L313 509L308 507ZM270 606L268 610L269 609L272 608Z"/>
<path fill="#fd9a48" d="M52 659L54 663L60 665L58 663L63 658L69 659L71 654L77 652L77 648L83 648L87 652L85 654L85 660L91 663L94 660L93 655L97 652L101 656L108 660L109 660L112 666L112 669L107 669L104 675L109 678L108 682L101 683L100 687L103 692L105 696L112 699L115 694L114 691L119 687L121 689L120 695L122 697L128 698L128 697L128 696L128 695L128 693L128 683L130 682L130 678L126 676L126 672L123 668L123 667L130 667L131 664L130 662L127 660L128 659L127 658L129 657L127 653L121 650L125 644L125 640L127 640L130 636L127 633L124 638L121 638L120 634L126 631L132 630L133 626L129 624L131 621L134 620L136 622L138 621L139 620L139 615L134 614L132 613L129 614L128 617L125 618L123 616L125 611L119 607L116 612L115 612L113 611L107 617L106 619L104 620L100 623L85 635L70 646L57 654L52 658ZM111 646L115 646L116 651L110 652L110 651ZM100 642L105 638L108 642L102 646ZM77 672L79 667L79 664L76 662L71 661L68 665L61 665L62 666L68 670L71 672ZM91 757L89 749L86 749L79 755L79 758L84 764ZM131 538L134 536L139 537L138 541L142 544L141 548L143 552L150 551L151 547L153 546L154 542L151 539L152 534L151 533L144 533L142 530L145 524L143 523L131 535L127 532L128 536ZM135 550L136 549L136 543L132 540L127 544L123 540L117 544L118 547L123 550L127 545L131 550ZM141 565L144 564L148 564L147 571L148 571L155 569L156 568L153 564L148 564L150 557L143 556L143 555L139 556L136 553L132 557L128 556L127 553L123 551L117 557L121 561L125 561L128 565L131 565L134 562L137 562ZM119 568L120 575L125 576L126 575L127 574L126 567ZM135 576L139 573L138 568L133 567L132 572ZM140 660L138 656L133 655L133 662L137 663ZM142 673L143 670L142 667L138 665L136 667L140 672ZM137 766L134 773L136 777L133 779L135 779L140 776L143 774L143 761L133 761L133 764ZM149 750L153 753L159 752L161 749L164 749L164 747L166 747L166 742L161 738L157 742L153 743L149 737L154 723L147 722L144 727L138 727L134 729L134 747L134 757L143 756ZM179 547L179 546L175 544L170 548L172 552L176 553ZM170 593L170 596L172 597L175 596L176 593L173 591ZM184 600L180 602L179 604L183 608L185 607L188 607L189 615L190 616L191 619L185 618L184 622L186 624L188 624L190 626L194 624L194 628L191 629L190 627L184 628L185 633L189 633L191 631L194 634L193 636L200 638L199 632L203 632L204 635L209 635L209 638L214 639L217 638L214 633L215 631L213 627L216 624L218 627L217 630L221 633L217 638L219 640L223 641L226 637L229 640L234 639L233 633L236 632L237 628L234 625L231 626L230 632L226 636L222 633L225 629L225 628L229 626L229 621L226 620L225 617L227 614L226 612L231 609L233 611L231 616L232 618L239 615L239 614L244 612L247 618L252 617L253 618L261 613L265 613L269 609L271 607L270 605L271 596L270 596L267 586L262 581L262 578L264 575L260 569L253 571L253 575L252 577L246 574L246 571L251 568L251 567L245 562L242 567L240 567L235 563L235 562L242 558L245 560L255 559L254 554L248 552L248 549L242 549L240 553L230 550L227 551L224 548L214 558L214 559L211 560L206 565L205 564L205 570L200 569L197 571L197 572L199 577L205 575L211 577L212 572L210 570L211 567L215 566L217 568L218 572L215 576L211 577L210 580L213 583L212 586L209 587L208 586L203 585L201 588L202 591L201 594L200 594L197 591L194 592L192 590L189 590L187 595L188 596L190 600L188 601L186 601ZM208 596L207 591L209 589L213 593L211 595L212 600L211 602L207 601L206 598ZM227 564L231 565L231 569L226 571L224 565ZM256 605L258 603L261 602L263 605L261 612L256 608ZM165 635L161 638L160 640L162 643L167 643L167 647L173 647L174 645L178 644L180 646L179 649L174 649L172 653L175 657L176 657L180 656L184 659L187 658L188 654L185 651L187 648L185 644L185 642L187 641L187 638L184 635L179 639L174 638L173 636L171 635L168 638ZM146 663L148 665L148 671L155 670L156 675L159 677L163 676L166 677L167 677L169 669L163 670L161 668L161 665L162 664L167 664L169 661L166 656L163 656L162 658L158 658L157 655L161 653L162 649L160 647L157 646L151 646L150 647L151 651L155 653L155 654L150 657ZM169 707L171 708L177 707L179 702L178 700L171 701ZM186 705L185 710L179 710L174 716L179 720L184 719L187 721L184 727L169 724L170 734L176 734L178 736L176 744L175 745L178 744L193 744L194 731L193 721L188 710L187 705ZM197 587L200 581L199 578L194 579L192 577L188 577L185 583L189 585L192 584L194 586ZM212 650L209 645L205 646L205 651L211 652ZM329 502L330 503L339 501L342 505L350 504L348 500L346 495L341 495L338 490L328 491ZM276 554L285 557L286 550L289 548L289 540L282 541L280 536L284 532L277 525L272 526L271 535L271 539L277 546ZM263 544L261 542L257 541L253 547L256 552L261 552ZM274 578L276 579L283 572L283 569L279 567L272 570Z"/>
<path fill="#fa6440" d="M124 611L122 616L125 619L129 618L130 614L125 611L128 607L130 608L131 613L134 614L139 615L140 614L139 609L137 609L134 606L135 605L132 600L135 598L137 598L140 603L141 608L143 609L144 614L149 614L149 609L152 608L152 605L149 602L150 598L146 597L146 592L149 591L151 592L154 587L153 584L155 581L155 580L151 576L147 582L148 584L147 586L142 585L142 590L139 591L137 589L138 585L142 585L144 580L143 578L144 577L142 574L145 570L141 566L142 565L137 561L134 561L131 565L128 564L125 568L126 574L133 573L133 568L138 569L138 573L135 575L135 576L130 579L130 583L131 584L130 591L126 597L129 600L127 605L122 604L123 599L117 597L115 604L118 607L118 608ZM110 652L117 651L116 646L111 645L109 651ZM84 679L88 670L79 666L76 671L78 677ZM92 709L94 708L97 708L101 713L105 711L106 705L112 703L113 701L112 698L105 696L104 691L103 691L96 694L96 699L92 701L89 699L85 701L85 703L88 708ZM69 760L68 760L66 765L66 775L68 773L69 773L72 778L72 779L81 780L83 781L89 772L95 758L102 747L103 741L96 740L95 738L90 735L85 735L82 726L85 722L84 718L86 717L85 713L83 718L80 732L77 745L75 751L70 758L69 760ZM80 758L80 755L86 750L88 750L90 757L84 763ZM137 778L135 773L138 765L133 763L133 779L134 779ZM127 726L126 722L121 720L115 722L112 716L104 720L95 725L102 732L104 732L105 734L105 733L125 728L129 727ZM145 525L146 524L143 522L142 523ZM154 600L154 603L157 604L159 603L160 598L159 597ZM152 651L151 647L152 647L153 641L156 641L157 647L158 648L160 648L161 650L166 649L168 653L173 653L175 650L173 647L168 646L167 642L163 642L161 639L165 636L168 639L171 636L173 637L176 634L178 634L179 639L185 636L185 634L186 633L185 629L190 628L190 625L188 623L186 623L185 622L186 619L190 620L192 619L191 615L190 614L188 606L185 606L183 607L180 604L181 602L184 601L185 602L189 602L190 600L189 596L188 595L190 591L192 591L194 592L197 592L199 595L202 594L203 591L202 588L204 586L207 587L209 588L213 586L214 582L211 580L212 578L216 577L219 572L218 571L218 568L215 565L211 566L209 570L211 572L211 576L205 574L199 576L198 579L199 581L197 586L194 585L193 583L189 584L186 582L183 584L183 588L183 590L180 593L180 595L178 597L177 597L175 595L172 596L170 595L166 597L163 599L164 602L167 603L167 605L164 607L164 609L170 613L173 613L177 616L175 619L175 621L173 622L172 622L171 617L170 617L167 617L164 616L163 617L162 620L164 623L161 626L161 629L156 629L154 632L153 632L151 633L150 637L150 639L146 642L146 644L147 646L145 650L147 655L148 655ZM168 626L172 627L174 626L176 627L174 630L172 630L170 632L169 631L167 629L168 627L164 623L167 622L169 623ZM129 679L133 675L130 671L126 672L125 676ZM127 705L128 697L122 697L118 702L119 703L123 705L123 707ZM172 551L168 555L168 557L164 559L163 562L165 566L160 569L161 574L164 575L168 572L168 570L166 566L170 564L173 566L175 565L178 567L178 570L179 571L184 570L185 566L188 566L192 562L191 558L194 557L188 553L188 557L186 557L183 554L183 549L169 540L166 547L170 548L175 545L178 547L175 552ZM167 588L167 592L170 594L173 591L173 588L178 587L179 583L179 582L173 581L172 587L169 587ZM200 570L200 564L198 562L194 564L194 568L190 569L189 571L192 576ZM232 565L227 563L223 564L226 572L232 570ZM297 587L301 581L303 579L301 577L296 578L296 586ZM207 601L211 603L213 601L212 596L214 593L209 588L206 591L207 596L206 597Z"/>
<path fill="#f24646" d="M128 624L132 627L131 629L126 630L119 633L121 638L124 639L127 634L130 636L136 627L137 639L137 652L129 654L126 653L128 657L129 657L130 657L138 656L140 654L140 650L145 650L148 647L147 644L147 642L151 639L150 637L151 634L155 633L156 630L162 630L162 626L164 624L167 627L166 629L168 632L170 632L172 631L175 631L177 627L177 626L174 625L172 626L169 626L170 623L167 621L164 622L163 620L164 617L167 618L170 618L171 618L171 622L173 623L176 621L176 619L178 616L174 612L173 612L170 612L165 608L165 607L168 605L168 603L164 602L163 600L171 596L171 593L168 592L168 589L169 588L172 588L172 591L175 593L174 596L177 598L178 598L181 595L180 594L184 590L184 585L186 583L188 578L192 578L193 580L199 579L200 576L198 571L193 575L190 571L190 569L194 568L195 564L198 563L200 565L200 570L206 571L206 564L194 556L190 558L191 562L188 565L185 565L183 569L179 570L178 566L175 564L173 565L170 563L166 566L164 562L165 559L169 558L169 556L172 552L171 548L167 547L169 540L170 540L146 524L144 524L142 530L143 534L151 534L150 539L153 542L152 546L150 547L149 550L143 551L142 556L143 556L149 558L148 563L143 563L141 565L140 566L144 570L141 574L143 577L142 578L143 580L141 584L137 584L136 590L139 592L142 591L143 586L148 586L149 584L148 582L151 577L154 580L154 581L152 584L153 587L150 591L149 590L145 592L145 597L149 599L148 602L151 605L151 607L148 608L148 613L145 613L144 608L141 607L141 603L137 597L135 597L131 600L134 605L134 606L136 610L138 610L139 614L139 615L139 619L136 621L134 619L130 620ZM155 600L159 598L159 599L158 603L157 604L155 603ZM149 564L152 565L155 568L154 569L149 571ZM165 567L167 570L167 572L164 574L161 574L161 570ZM173 587L174 582L178 583L177 587ZM124 639L124 645L128 640ZM68 658L62 657L57 663L59 665L62 666L68 666L71 662L76 663L78 664L79 667L87 671L84 678L78 676L77 671L70 672L77 677L79 685L81 694L85 702L89 700L92 702L97 699L97 695L103 691L101 687L102 683L109 682L110 678L105 675L107 670L113 670L113 666L109 659L108 660L102 655L97 651L93 655L93 660L91 662L86 659L86 655L87 652L84 647L77 648L76 651L70 653ZM113 712L105 710L102 712L97 707L94 707L92 708L88 708L85 713L85 714L85 716L84 718L84 722L81 726L81 727L85 735L90 736L94 739L95 741L103 742L105 733L104 731L102 731L97 725L104 720L111 717L115 723L121 720L119 711L115 712ZM68 772L66 774L66 775L70 779L73 779L73 778L70 772ZM151 647L158 647L156 640L153 640ZM182 554L186 558L188 557L189 553L182 549ZM215 560L214 557L210 561ZM293 568L292 576L287 578L286 581L290 587L294 588L297 586L296 579L301 578L302 580L309 573L305 569L296 567ZM203 638L205 635L203 631L198 631L199 639Z"/>
</g>
<g transform="scale(0.5)">
<path fill="#f88a8a" d="M424 572L436 582L448 595L459 605L468 615L454 627L439 639L424 650L411 658L405 662L408 667L416 670L422 674L431 681L433 689L435 698L439 707L442 712L439 717L437 722L434 736L431 749L429 755L424 762L420 769L420 779L424 783L435 784L437 785L443 776L449 762L456 751L459 737L479 732L488 730L488 751L488 761L507 759L515 758L518 751L532 748L547 748L548 735L547 725L542 714L540 702L541 686L542 681L547 674L548 663L573 656L602 645L607 640L611 632L616 622L623 613L632 608L637 605L647 596L655 585L665 576L672 570L685 568L689 564L685 559L678 557L680 551L683 543L689 534L695 532L700 530L702 521L704 509L702 504L698 496L697 487L693 477L681 476L668 468L667 462L662 465L647 456L634 469L622 482L611 494L603 509L591 521L580 535L574 542L579 551L560 569L497 526L485 539L452 517L416 564ZM490 631L491 643L491 656L483 658L475 654ZM498 687L481 662L483 661L500 685ZM483 693L492 691L496 695L492 703L485 704L482 699ZM469 716L467 712L473 707L477 709L476 715ZM487 765L487 783L489 783L494 780L497 778L497 765Z"/>
<path fill="#fde0e0" d="M467 535L467 533L459 525L461 523L454 518L453 520L458 525L454 530L456 536L464 537ZM432 552L441 547L441 543L440 541L434 540L431 545ZM454 562L460 563L461 561L459 554L453 551L451 555L443 558L447 564L451 565ZM462 572L467 575L472 572L467 567L466 567ZM453 570L449 573L452 578L459 579L460 573L458 570ZM454 601L459 605L461 607L463 606L463 596L469 594L470 591L466 586L472 583L472 580L467 577L464 580L466 586L461 588L460 593L454 594ZM455 638L455 631L454 630L446 633L445 634L450 640ZM453 646L460 655L463 655L464 656L471 655L472 660L476 661L480 657L475 654L479 648L478 648L476 649L473 647L470 650L465 649L464 647L468 643L472 645L475 642L474 638L480 635L481 638L477 643L479 644L481 644L490 631L490 635L493 633L494 635L493 639L497 642L497 643L500 646L500 648L501 650L499 654L495 653L496 649L493 645L491 645L491 656L483 658L480 657L482 661L482 662L483 661L487 666L491 667L492 670L496 671L496 674L503 675L503 669L509 668L510 667L509 666L505 661L504 661L500 667L499 667L497 664L499 660L502 659L506 655L505 651L506 651L507 644L505 643L504 641L506 637L500 635L500 634L498 629L500 626L500 624L499 623L493 623L493 619L487 618L488 624L484 624L482 628L486 631L485 633L480 635L479 632L474 630L471 633L472 636L467 639L463 635L459 640L459 641ZM481 663L478 664L475 668L476 671L484 671L485 668L481 662ZM439 641L438 640L431 645L437 645ZM463 664L456 659L455 659L452 665L455 670L457 670ZM470 687L464 688L463 693L467 696L474 690ZM462 731L458 735L456 735L448 742L449 744L448 750L442 753L440 753L438 749L440 739L439 739L433 740L431 749L429 755L429 756L433 759L433 762L437 767L434 773L437 780L440 780L443 776L449 762L456 751L459 737L469 734L469 733L472 734L479 732L480 732L481 731L481 726L481 725L491 725L492 723L491 717L486 714L482 717L476 715L469 716L467 712L473 707L473 706L466 705L465 707L467 716L465 721L469 727L467 731ZM513 755L515 753L518 753L518 751L532 748L547 748L548 741L541 741L540 738L540 737L538 731L532 730L534 723L538 723L541 726L546 723L543 716L540 716L539 714L533 714L529 720L528 720L523 728L523 744L520 746L515 742L520 737L515 732L514 732L510 737L504 737L502 741L506 747L503 753L496 760L507 759L514 758ZM494 759L488 759L488 761L495 760ZM448 721L455 719L456 717L451 711L448 711L446 712L446 719ZM492 588L491 587L491 583L489 580L485 583L480 578L479 579L477 586L479 587L478 592L485 595L491 594ZM488 610L489 609L495 607L491 601L489 601L485 595L480 600L477 596L471 599L471 602L477 604L480 602L483 604L481 609L481 611L484 612ZM467 619L470 625L472 625L475 620L470 615L468 616ZM490 676L488 672L485 672L483 675L480 676L479 680L483 683L486 680L488 680ZM483 701L482 699L483 693L486 692L482 692L481 693L482 701ZM496 694L496 688L491 686L489 687L488 692L492 691L495 694ZM502 567L501 575L502 575L509 573L510 572L507 568ZM497 585L502 586L505 581L508 584L513 581L514 579L509 577L505 580L503 579L497 580L496 582ZM496 595L500 596L503 595L502 590L496 589ZM506 609L505 612L508 614L511 612L514 612L516 609L513 607L511 608L509 607ZM498 612L495 611L492 613L494 618L498 618L499 617ZM511 624L511 621L506 618L504 618L503 621L506 625L501 627L503 632L504 632L508 630L507 626ZM510 691L504 693L502 696L504 699L510 701L514 698L514 696L512 692ZM509 713L501 711L498 713L500 720L507 720L510 716ZM523 545L524 544L518 540L518 542ZM532 574L533 575L538 574L539 569L537 566L532 570ZM534 598L538 594L538 593L537 592L532 591L532 596ZM517 604L518 606L522 608L523 606L519 598L517 597L512 599L513 602L514 603ZM543 600L541 599L538 601L538 604L539 606L543 606L544 604ZM540 645L542 646L547 645L547 641L544 640L540 642ZM522 645L520 646L521 651L527 651L528 649L526 645ZM549 656L549 658L546 660L543 658L542 658L539 654L535 655L534 659L530 661L532 666L527 668L526 673L531 673L533 675L539 675L539 674L545 677L545 676L547 674L548 663L572 656L573 655L569 653L570 648L567 646L565 647L562 644L559 644L557 649L559 650L563 650L565 654L564 655L559 654L557 656L556 655L554 654L552 654L549 649L544 651L545 655ZM516 723L517 723L521 719L519 713L511 716ZM667 465L667 462L665 463L665 465ZM647 531L651 534L658 531L661 533L662 538L672 540L674 536L673 530L671 528L671 524L672 522L668 513L663 511L663 504L659 500L658 497L651 492L645 495L645 499L642 506L645 510L642 516L643 518L640 525L643 531ZM617 530L625 529L625 519L623 518L617 519L614 523L615 528ZM591 523L590 522L586 527L589 527ZM597 537L595 540L596 545L601 546L608 542L608 538ZM576 544L580 547L585 546L585 544L583 537L578 537L576 539ZM615 555L610 555L607 558L608 563L609 565L618 560ZM586 574L586 569L589 567L589 566L587 561L581 560L580 567L577 568L580 576ZM623 573L627 575L634 572L633 567L627 563L622 570ZM605 571L599 566L595 571L600 575L605 572ZM663 577L665 576L672 570L671 568L661 568L658 574ZM560 584L559 579L553 580L552 583L554 585L557 586ZM618 609L624 609L625 600L623 599L616 600L614 606ZM559 608L562 605L560 602L554 604L557 608ZM553 643L557 642L559 639L557 635L552 635ZM584 650L583 650L581 653L585 651ZM487 783L489 783L494 780L497 778L497 765L487 765Z"/>
<path fill="#fbb4b4" d="M455 538L457 535L455 530L459 525L454 519L455 519L452 517L445 526L446 529L445 532L449 541ZM442 533L440 532L434 541L440 542ZM442 548L442 558L440 558L437 564L432 564L429 570L436 575L437 575L439 568L444 569L448 564L445 559L452 555L453 552L458 554L463 552L464 546L462 544L458 544L452 549ZM458 571L460 573L458 578L452 577L449 582L444 580L440 583L435 581L436 582L448 595L455 594L453 586L458 584L459 579L464 581L468 578L468 575L463 572L467 567L460 562L459 562ZM454 631L454 637L450 639L449 644L446 646L446 647L446 651L451 655L456 650L454 646L459 641L459 640L463 636L461 632L463 626L461 623L458 624L454 627L453 628ZM421 653L421 651L414 656ZM467 674L467 670L464 664L466 662L465 656L463 655L460 655L456 660L461 664L457 670L461 674ZM439 658L439 664L445 667L448 664L447 659L441 656ZM423 662L416 661L411 667L413 669L416 670L422 670L425 666ZM457 679L454 685L455 688L463 686L464 682L459 679ZM440 686L438 682L432 680L431 681L433 689L433 690L440 687ZM436 697L435 698L439 706L443 704L444 696L441 695ZM460 708L456 706L459 700L458 695L457 695L450 698L450 703L455 706L451 711L455 717L459 715ZM442 712L439 717L439 718L439 721L446 719L447 712ZM437 749L440 754L442 754L448 751L450 744L449 743L456 736L450 729L448 729L443 739L439 739L436 730L439 726L438 722L437 721L437 722L434 736L433 741L439 740ZM503 575L502 574L498 574L496 577L493 577L492 572L487 571L486 576L489 579L489 580L491 583L490 587L491 588L490 594L493 596L496 595L497 590L502 590L503 588L506 588L509 585L509 584L505 580L502 585L498 584L497 582L498 581L503 579ZM478 592L476 593L476 596L480 601L485 595L485 594ZM478 616L482 611L481 609L475 608L473 610L470 608L471 600L463 600L462 601L462 605L465 608L464 611L468 615L461 621L468 619L473 612ZM485 617L483 618L482 621L479 622L476 619L474 620L471 624L470 624L467 627L468 632L472 633L474 631L479 632L481 629L483 628L485 625L488 624L488 619L493 619L494 618L493 613L491 613L488 610L484 612ZM481 638L480 634L473 637L474 642L472 644L468 642L463 647L465 649L470 651L473 648L476 650L478 649L482 644L479 643L478 643ZM492 646L493 646L495 649L494 654L499 654L502 651L501 648L501 646L498 642L498 641L494 639L495 635L493 632L490 634L491 643L491 647ZM481 664L482 663L481 662L483 661L481 657L479 656L475 660L478 665ZM485 672L484 670L476 671L476 673L480 677L484 676ZM482 693L484 693L488 692L490 688L491 687L495 689L495 693L494 694L496 695L493 701L495 702L496 703L502 706L501 712L509 714L511 708L510 706L502 705L505 698L503 696L505 693L502 688L506 685L509 686L513 683L514 681L517 680L517 674L515 672L515 668L509 667L508 668L508 674L509 675L510 678L506 680L503 678L499 681L496 679L496 676L493 675L500 685L498 687L490 676L488 679L486 679L483 682L479 680L475 681L477 687L481 688ZM465 703L466 706L473 707L476 701L475 699L476 693L473 690L467 695L468 698ZM492 723L499 723L501 727L508 728L517 723L512 716L510 715L507 720L501 719L499 713L498 713L494 708L489 708L486 712L481 708L477 710L476 715L475 715L482 718L486 715L490 718ZM480 730L478 732L479 732L483 731ZM468 732L468 735L474 733ZM495 760L493 753L488 751L488 760ZM512 538L512 536L505 531L504 537L506 539L511 539ZM518 563L517 566L519 571L525 567L524 563L531 563L531 559L530 556L526 556L525 552L520 550L519 551L518 555L513 558ZM514 566L512 564L508 564L506 568L509 572L511 572ZM508 607L511 608L513 607L514 602L513 600L517 598L516 592L512 592L510 597L506 597L504 602L508 604ZM497 613L498 623L500 626L497 629L499 634L504 631L502 627L507 625L504 621L505 619L503 617L503 613L506 612L506 609L503 606L501 607L497 606L494 607L495 612ZM511 620L518 621L519 621L519 618L516 615L519 613L519 611L516 608L515 609L514 612L511 611L508 614L512 617ZM502 659L498 660L496 664L499 668L501 668L504 661ZM513 698L518 703L523 701L524 700L523 694L521 692L514 696ZM538 579L536 583L540 587L543 582L539 578ZM553 599L556 598L557 595L556 592L558 590L557 585L554 584L551 590L552 591L550 596ZM542 588L541 592L543 595L546 595L548 589L547 587ZM563 592L560 595L561 600L565 600L568 597ZM544 604L548 605L549 604L549 601L547 599L542 600ZM542 610L539 610L537 611L538 615L543 615ZM521 615L521 616L524 617L527 616L526 611L524 611ZM527 626L525 626L523 627L522 630L521 630L520 633L522 636L524 636L525 640L527 641L531 637L529 634L527 634L526 631L528 630L531 631L532 629L535 629L537 626L539 626L540 622L536 620L534 621L534 624L531 625L530 624ZM538 648L540 652L545 652L545 651L542 645L541 645L539 646ZM566 654L563 649L559 650L559 655L565 656ZM515 662L516 668L520 668L522 673L526 673L527 673L528 668L525 665L530 661L527 657L529 654L527 651L521 650L520 653L522 657L520 660L517 660ZM542 658L546 661L550 659L549 656L545 654ZM539 687L541 687L541 686L542 681L547 674L547 673L546 675L545 676L539 673L538 674L538 680L535 682ZM519 688L521 689L527 687L527 681L521 680L519 681ZM520 719L517 723L520 728L524 728L528 720L527 719ZM542 727L546 730L546 734L539 737L539 739L541 742L548 742L548 735L547 725L546 722L541 725L539 722L533 723L531 730L538 732ZM514 753L512 755L513 758L515 758L518 752ZM665 464L663 467L664 475L675 479L677 477L677 473L668 468L667 464ZM638 471L636 477L639 484L650 482L652 478L650 470ZM625 493L627 486L624 481L628 476L622 482L617 488L616 492L617 493ZM692 495L694 500L700 499L698 496L697 489L693 492L688 484L686 484L679 492L679 494L682 496ZM632 498L633 499L645 497L646 495L639 484L635 487ZM623 508L621 502L617 500L614 501L609 498L604 507L604 508L611 508L614 512L622 510ZM667 513L671 522L679 519L676 508ZM600 513L594 518L594 522L591 523L589 527L591 531L597 533L599 531L598 523L600 522L604 514L603 513ZM616 536L617 529L615 528L606 531L607 539ZM685 536L683 538L684 542L688 535ZM581 556L585 554L584 546L591 549L588 555L589 557L594 558L597 554L601 554L602 556L608 559L610 555L608 551L612 546L607 541L601 545L597 544L595 540L591 539L584 544L584 546L580 546L578 549L579 551L578 553ZM671 570L672 570L684 568L682 561L672 562L671 569ZM586 575L584 581L584 582L584 586L591 589L593 581L594 580L592 576L594 571L589 566L585 569L585 573ZM572 572L569 569L565 570L563 574L566 576L572 575ZM644 591L648 592L650 590L651 591L655 585L657 583L656 582L659 574L650 571L647 572L646 580L641 582L640 585ZM580 576L575 577L572 576L569 581L572 585L576 584L577 584L582 581ZM590 632L589 636L593 639L597 635L594 631ZM576 637L571 634L569 634L567 637L570 642L572 642ZM574 654L572 655L571 656L573 656L575 655Z"/>
<path fill="#f56262" d="M433 550L431 544L425 552L432 553L430 561L424 561L422 568L424 571L424 572L433 580L436 575L443 577L447 573L444 568L439 567L436 574L430 570L433 564L438 565L441 559L443 558L443 549L452 550L453 550L459 545L463 545L465 536L456 535L454 538L450 540L446 532L447 529L446 525L440 533L441 534L439 542L440 543L441 547ZM471 549L472 551L477 554L481 549L485 553L481 557L482 560L486 561L490 558L489 553L495 552L497 556L503 555L506 559L512 557L512 552L507 550L508 546L504 543L500 544L497 538L505 538L506 532L500 528L498 528L496 533L491 533L485 539L481 536L482 540L485 542L485 544L481 548L473 538L478 534L469 529L466 533L466 535L471 538L468 546ZM479 580L481 578L487 577L487 572L492 573L492 577L496 578L499 574L495 570L496 569L491 565L488 565L485 569L482 568L480 571L473 572L474 579ZM457 584L452 586L455 594L460 593L462 588L466 586L465 580L459 578ZM477 596L477 593L479 592L480 587L478 585L474 585L471 590L470 591L468 593L462 595L463 601L471 601L472 599ZM480 601L476 603L475 609L481 610L484 604ZM479 623L483 622L484 618L486 617L485 612L482 610L478 615L476 620ZM460 632L463 636L469 632L468 626L462 626ZM439 641L443 641L446 634L439 639L438 640ZM430 650L431 645L424 650L423 650ZM461 655L456 649L451 655L451 656L455 660L456 660ZM416 661L422 663L424 666L422 669L422 674L425 676L431 676L433 671L433 668L431 666L432 658L431 655L425 657L421 652L419 653L414 656ZM478 664L476 660L472 659L469 662L471 667L476 669ZM408 666L408 667L414 669L412 666ZM451 703L451 699L457 695L455 691L448 691L446 686L449 683L449 680L442 674L441 674L438 682L440 686L441 695L443 697L443 704L446 706ZM467 705L466 702L459 700L455 706L459 709L466 707ZM489 709L488 704L485 704L483 701L482 701L481 701L480 709L486 713ZM438 767L434 762L424 765L426 774L434 774ZM497 560L497 568L507 569L509 565L505 560L503 561ZM511 571L509 572L508 573L509 578L513 580L513 581L508 584L508 586L512 588L516 586L520 583L519 578L522 577L524 579L528 580L527 586L532 587L534 583L533 580L528 580L530 575L527 572L528 569L524 567L520 570L517 566L513 566ZM519 598L521 596L524 598L527 596L529 597L532 596L533 592L532 591L523 591L522 587L517 587L517 591L515 592L517 598ZM512 591L508 591L506 588L503 588L501 590L502 595L504 596L506 598L511 598L513 593ZM503 606L504 602L500 601L500 596L496 594L493 596L492 600L498 601L496 607L501 608ZM520 601L522 606L522 607L518 606L515 609L519 612L522 609L524 612L526 612L527 616L523 617L523 621L525 622L525 626L527 627L530 625L530 623L526 622L529 618L531 620L535 622L536 621L540 623L540 622L542 619L544 619L543 615L547 614L548 613L548 610L552 609L554 605L549 603L547 604L547 609L544 609L542 610L542 614L539 615L538 611L540 611L540 606L538 604L539 601L534 599L532 602L534 606L533 608L536 611L533 614L532 613L531 611L533 608L529 605L526 607L523 606L526 603L526 600L524 599ZM493 614L495 611L495 607L494 607L488 608L488 610L490 614ZM522 616L522 615L519 612L515 615L518 619ZM499 624L498 618L494 618L493 619L493 624ZM509 631L510 634L521 633L522 631L518 627L515 629L512 628ZM504 641L504 643L507 645L511 644L510 638L509 636L507 636L505 637ZM522 642L519 639L515 642L514 644L516 647L521 647L522 646ZM516 663L518 661L520 661L523 657L521 652L516 653L514 651L511 650L505 650L504 651L505 655L509 657L511 663ZM523 673L521 668L516 667L515 669L515 673L516 674ZM511 679L510 675L509 674L502 675L502 679L506 681ZM520 720L529 720L534 715L539 715L539 716L543 716L542 714L540 702L540 701L535 700L532 704L529 699L531 695L534 697L538 694L541 695L541 686L539 687L537 690L533 688L536 682L538 680L539 674L533 674L532 673L527 672L525 673L528 680L527 681L527 686L520 689L520 693L522 694L523 699L522 701L518 702L516 707L519 711L518 713ZM526 706L532 705L532 706L531 710L525 712L524 711ZM499 722L492 723L491 724L492 732L498 732L504 737L508 727L501 726ZM494 760L497 760L504 753L496 748L492 753ZM523 544L520 551L524 552L526 556L530 557L533 551L534 551L523 544ZM540 562L542 561L543 557L536 553L536 558ZM531 562L528 569L532 571L537 566L537 565ZM543 575L540 577L539 579L542 582L539 587L543 589L547 588L548 583L546 581L547 579L554 574L559 575L564 574L566 570L562 567L560 569L548 560L544 562L545 566L541 570L544 573ZM545 624L548 628L548 632L545 633L544 631L544 629L542 627L540 627L539 625L536 626L535 629L536 632L538 632L539 637L543 637L545 635L548 638L552 635L552 634L554 630L557 630L561 628L564 629L566 625L565 622L557 618L554 620L554 623L552 623L550 622L550 619L547 617L544 619ZM539 640L539 638L534 635L531 637L533 643ZM538 732L540 738L547 734L547 729L541 726ZM606 531L606 524L600 522L597 523L598 531ZM577 543L575 544L578 550L580 546ZM575 560L573 563L569 564L569 570L571 572L571 574L565 575L564 580L565 582L570 581L572 577L575 578L580 576L580 575L578 569L581 568L582 561L581 559L582 556L578 552L573 557ZM603 556L602 553L596 553L593 558L596 562L598 563ZM573 592L578 587L577 583L576 583L572 584L571 586ZM555 592L556 596L561 595L563 593L563 591L562 590L557 589ZM607 601L609 598L609 593L605 592L600 595L602 598ZM554 605L560 603L560 601L556 597L553 599ZM573 618L574 621L578 621L579 625L582 626L582 630L585 631L588 630L589 625L587 623L587 621L586 620L588 615L585 612L580 615L579 614L578 610L584 608L583 603L576 603L575 608L572 608L571 610L570 612L566 615L568 619ZM601 622L598 625L601 628L609 628L610 626L608 621L607 620L606 614L601 613L603 607L598 604L593 610L599 614L598 616ZM577 630L573 630L571 627L566 631L569 635L571 635L575 638L576 638L579 633L579 631ZM564 637L562 633L558 633L556 635L558 639L563 639ZM600 641L597 643L599 646L602 645L606 641ZM575 650L572 647L569 648L568 653L572 655L574 655L583 652L584 650L582 649L584 643L580 640L579 640L577 644L578 648ZM557 657L560 655L560 650L558 648L555 649L553 654L555 656ZM664 468L666 464L666 463L662 465L652 459L650 463L651 467ZM623 481L627 487L635 488L639 485L640 483L637 477L639 471L637 467L634 469L624 480ZM658 498L666 490L663 486L662 477L651 477L649 481L652 487L651 492ZM697 490L697 487L694 480L688 484L692 493ZM617 492L618 487L613 492ZM633 498L633 506L632 508L633 514L643 517L646 510L643 506L646 499L645 496ZM622 509L614 511L613 513L607 516L609 522L614 524L617 520L623 519ZM626 530L625 529L616 529L616 536L618 539L633 540L635 546L642 545L643 552L648 554L648 559L642 563L643 570L648 573L650 572L658 574L655 582L656 584L663 577L659 574L661 569L671 569L673 563L682 561L684 559L685 559L678 557L680 551L683 543L685 541L684 538L674 536L671 540L672 542L677 548L677 550L669 555L668 557L658 552L658 551L660 546L659 543L651 539L651 533L647 530L644 530L640 525L635 524L631 529ZM696 527L685 524L683 527L685 536L688 536L689 534L695 532L697 531ZM632 568L639 561L640 553L633 549L623 552L620 548L616 548L614 555L617 560L622 559L626 561L627 564ZM620 590L623 600L624 601L628 599L630 600L637 596L639 597L644 591L641 585L642 583L637 575L637 573L633 571L626 574L628 582L625 583ZM611 588L616 586L616 581L607 579L606 581L605 585ZM625 609L624 608L618 608L615 617L619 617L623 613L625 611Z"/>
<path fill="#f04444" d="M470 529L461 523L458 525L467 534ZM496 534L499 528L497 527L490 533ZM477 544L482 540L482 537L477 534L471 538ZM459 562L454 561L450 564L452 571L458 571L460 563L466 568L467 567L477 556L481 558L486 553L482 548L481 548L476 553L473 551L472 548L469 545L463 545L463 552L467 556L467 557ZM425 571L423 568L425 562L430 561L433 553L432 552L425 552L416 564L424 572L424 573ZM503 554L497 555L496 560L497 560L504 562L506 560L507 558ZM475 564L473 572L480 572L482 569L485 569L488 566L491 566L494 560L490 557L486 561L482 560L479 564ZM495 569L494 570L498 575L502 575L503 568L497 567ZM470 591L472 591L475 586L472 582L465 586ZM499 601L492 599L491 601L494 607L494 608L497 607ZM477 603L471 601L469 608L472 611L476 609ZM445 667L440 663L432 668L433 671L441 675L445 671ZM480 676L476 672L473 675L474 681L476 682L479 680ZM469 698L468 695L464 693L457 695L459 700L466 703ZM451 702L446 705L447 712L451 712L456 706ZM493 753L496 749L504 754L507 747L503 740L496 743L493 731L491 724L481 724L480 726L480 731L482 732L488 730L488 751L488 752ZM462 731L458 724L449 729L456 736L458 736ZM420 779L422 777L423 777L426 783L430 783L435 784L437 785L441 780L438 779L434 773L426 773L425 766L434 762L434 759L429 755L424 762L423 764L422 764L420 769L420 779ZM517 567L519 563L514 558L519 555L524 544L518 541L514 547L515 548L511 552L511 557L513 558L511 564L514 567ZM542 561L544 562L548 561L542 557ZM570 564L569 563L565 564L562 567L565 571L569 570ZM548 596L551 596L553 591L552 590L554 585L553 583L554 580L552 575L546 579L546 582L547 584L546 588L547 589L546 594ZM559 584L562 585L565 584L566 581L565 580L559 578L558 579ZM540 587L537 583L533 583L532 586L532 588L538 589ZM512 587L508 585L506 588L507 591L512 592ZM562 593L567 597L565 599L562 599L560 601L561 605L558 608L560 611L563 611L564 614L563 616L557 614L557 619L564 622L565 625L563 628L564 631L567 631L570 628L573 631L577 631L578 632L583 630L583 625L580 624L579 620L575 620L573 617L569 618L567 615L571 612L572 610L565 607L567 605L570 604L572 609L576 608L577 603L576 601L576 600L579 598L583 601L582 603L583 607L577 609L578 614L580 616L585 613L587 616L591 615L592 619L586 621L586 623L588 626L595 626L593 631L597 635L600 635L600 641L605 642L607 640L608 638L609 637L611 632L616 622L620 616L616 616L618 608L615 605L617 601L624 600L623 609L624 611L622 614L623 613L632 608L637 605L647 596L648 594L648 591L644 590L638 596L637 595L630 599L628 599L624 600L621 590L615 594L611 591L608 593L608 598L606 600L602 598L601 595L605 593L604 585L599 586L597 588L599 594L587 599L586 594L581 592L580 593L573 592L574 591L571 585L567 586L566 590L562 591ZM599 616L600 614L594 610L598 605L602 607L600 613L605 615L606 621L607 621L609 626L608 628L601 627L599 625L601 622ZM525 600L525 603L529 605L531 602L529 599ZM532 608L530 611L531 614L533 615L538 611L534 607ZM518 611L518 613L522 615L525 611L522 608ZM555 620L552 618L550 619L549 622L552 624L555 623ZM518 628L521 625L522 622L518 620L517 621L516 624ZM526 635L529 635L531 632L534 634L537 632L535 628L532 628L530 630L528 629L525 631ZM556 629L554 629L551 634L552 635L553 636L557 636L559 633ZM507 644L505 651L511 651L514 652L517 646L515 643L520 640L520 638L516 635L514 638L509 637L510 644ZM559 645L562 644L564 642L567 643L566 647L569 649L573 647L573 644L577 645L580 641L583 644L587 643L588 647L592 649L600 645L598 642L596 643L594 641L594 638L590 635L591 632L588 629L585 630L584 636L578 632L576 637L571 641L570 641L568 636L564 637L563 638L558 639L556 642ZM539 655L541 652L538 648L534 650L533 653L535 655ZM540 701L541 694L538 693L534 696L535 701ZM584 536L589 536L592 531L589 526L587 527L583 531ZM638 471L650 471L652 467L651 463L643 460L636 467ZM650 481L639 483L638 485L645 496L651 492L653 487ZM618 501L618 492L617 491L614 491L612 494L611 495L609 499L614 502ZM614 512L612 507L604 507L603 514L607 516L614 513ZM699 520L702 520L704 509L703 507L696 508L695 515ZM633 508L623 507L621 510L623 519L625 520L632 518L634 514ZM678 551L678 547L672 542L672 540L662 537L659 543L659 546L657 551L658 553L668 557L669 557L669 556ZM626 542L620 548L623 552L632 551L632 550ZM639 553L638 561L642 563L649 560L648 554L643 551ZM608 576L605 572L600 574L599 578L606 582L608 580Z"/>
</g>
<g transform="scale(0.5)">
<path fill="#f8e400" d="M759 564L767 572L779 582L791 595L802 605L811 615L797 627L782 639L767 650L754 658L748 662L751 667L759 670L765 674L774 681L776 689L778 698L782 707L785 712L782 717L780 722L777 736L774 749L772 755L767 762L763 769L763 779L767 783L774 784L777 778L786 773L794 751L808 737L810 748L817 751L831 748L845 756L859 756L876 762L879 751L890 744L891 735L890 725L885 714L883 702L884 686L885 681L890 674L897 669L907 664L921 658L933 654L942 649L949 642L954 632L959 622L966 613L975 608L980 605L990 596L998 585L1008 576L1015 570L1028 568L1032 564L1028 559L1021 557L1023 551L1026 543L1032 534L1038 532L1043 530L1045 521L1047 509L1045 504L1041 496L1040 487L1036 477L1024 476L1011 468L1010 462L1005 465L990 456L977 469L965 482L954 494L946 509L934 521L923 535L917 542L922 551L903 569L840 526L828 539L795 517Z"/>
<path fill="#fdfcb0" d="M788 532L792 540L783 543L784 547L785 549L785 558L784 558L775 553L773 561L767 561L765 568L767 571L767 572L779 582L791 595L797 594L798 601L806 602L806 601L806 596L811 594L814 600L819 597L823 601L828 595L828 594L834 594L835 588L834 587L829 587L828 586L828 583L833 581L833 579L829 576L824 577L823 572L826 569L823 565L825 560L824 557L820 555L814 561L811 557L803 561L802 562L801 571L803 573L801 578L795 577L793 573L790 573L788 569L791 564L788 559L795 555L796 552L801 554L806 552L807 546L806 544L808 536L810 535L815 538L821 534L795 517L783 533L785 534ZM831 539L828 542L828 545L832 547L836 545L836 541ZM826 670L828 672L826 675L823 676L822 680L826 683L826 685L824 687L820 686L816 690L818 693L824 693L825 701L823 708L818 711L817 714L825 718L830 715L830 712L832 709L836 709L840 713L833 717L835 723L842 723L843 726L840 732L847 737L847 738L853 738L857 743L854 746L850 747L846 740L839 743L836 732L835 731L830 733L823 730L819 734L820 740L828 744L827 749L831 748L845 756L859 756L876 762L877 760L877 759L877 758L878 756L876 749L873 747L866 754L863 752L863 747L867 744L867 738L867 728L864 727L861 723L864 719L862 713L863 711L867 711L869 705L866 701L861 702L857 698L857 696L864 693L864 689L870 687L873 690L872 693L873 695L877 696L878 701L883 701L884 686L885 681L890 674L894 671L891 671L887 668L882 669L880 667L882 662L877 659L873 660L872 660L870 657L865 657L863 660L865 665L863 668L865 673L859 674L859 680L856 680L854 678L853 675L858 673L858 668L852 667L851 668L846 668L844 667L842 667L840 664L842 660L837 658L837 654L832 652L829 654L830 666L827 667ZM852 656L849 654L848 651L845 650L842 654L844 659L847 662L848 662L853 658ZM893 665L896 661L892 658L889 660L886 658L885 658L883 662L888 666L890 665ZM1008 489L1014 499L1023 494L1025 496L1035 495L1036 492L1032 485L1037 481L1036 477L1024 476L1011 468L1010 462L1008 463L1008 464L1006 467L1007 475L1017 478L1016 485ZM946 514L950 516L956 513L960 520L966 519L967 520L967 529L969 531L968 539L969 540L977 540L980 536L982 536L987 531L991 531L995 521L994 520L987 518L986 516L989 510L986 506L989 499L989 495L982 485L982 484L993 482L995 478L993 470L982 471L980 467L977 469L965 482L954 494L947 508ZM918 637L923 641L928 636L921 632Z"/>
<path fill="#f2f04a" d="M768 571L766 568L768 562L773 561L775 554L784 559L786 558L786 549L784 547L784 544L792 541L793 540L788 531L785 533L783 532L759 564L767 572L767 573ZM806 546L806 551L801 554L796 551L794 555L786 558L790 564L787 569L790 573L793 574L795 578L802 579L803 573L801 571L804 562L810 558L814 562L820 556L824 558L829 554L838 552L840 556L847 555L848 551L850 550L851 546L847 543L843 544L842 547L840 548L836 545L832 546L829 544L829 542L831 540L836 542L840 538L841 537L839 533L834 533L828 539L820 534L815 538L810 534L807 536L805 545ZM836 577L839 578L841 575L845 575L846 568L840 567L835 572L830 571L828 569L825 568L822 572L823 578L829 577L832 580ZM798 594L791 594L791 595L802 605L808 611L809 608L812 608L815 611L819 609L824 610L826 605L829 605L833 601L828 595L823 601L820 603L814 601L815 599L812 593L805 595L805 601L799 600ZM822 615L816 611L813 616L817 621L820 620ZM810 695L811 698L818 700L819 693L817 690L820 687L825 688L827 686L827 682L823 680L823 677L827 676L828 672L827 670L819 671L819 672L816 674L810 674L810 673L810 670L806 663L805 664L800 670L804 673L801 679L806 682L805 686L807 688L806 693ZM832 580L827 583L827 587L829 588L833 588L834 588L833 594L836 596L839 595L840 590L839 588L841 585L845 586L846 588L849 588L850 591L855 592L855 587L852 585L852 584L846 579L840 580L839 582L834 582ZM844 612L844 607L840 606L837 607L838 612L841 613ZM888 624L883 622L882 622L881 626L883 628L885 628ZM905 644L907 648L906 649L903 649L901 648L898 649L897 654L895 654L892 649L887 651L888 655L885 658L889 661L892 659L894 661L893 664L889 664L888 665L883 661L881 662L879 668L882 670L887 669L891 672L893 672L897 669L907 664L921 658L933 654L942 649L949 642L951 638L952 637L954 632L959 622L963 616L958 616L953 612L953 609L945 607L943 613L942 614L941 615L936 618L934 614L930 615L928 612L922 615L923 618L921 621L922 625L925 626L925 629L921 631L920 630L916 630L914 627L909 631L907 630L904 633L906 637L906 639L906 642ZM915 648L918 651L922 649L925 649L926 651L921 657L917 654L915 655L912 653L913 649ZM922 633L926 636L923 640L919 637ZM825 660L823 664L828 668L831 666L831 660ZM856 698L861 703L866 701L867 700L866 694L873 693L874 689L870 686L863 689L863 692L857 696ZM847 737L845 741L849 747L854 747L858 743L853 737ZM921 549L922 551L921 553L924 556L927 554L937 558L940 554L944 554L945 556L941 562L939 561L932 565L931 567L937 572L939 571L943 575L948 573L950 576L950 580L959 582L961 579L962 579L967 573L966 570L971 564L970 561L974 558L975 551L976 550L982 554L986 552L991 554L995 551L1000 552L1001 553L998 562L1003 565L1011 557L1015 563L1014 569L1014 570L1015 570L1028 568L1032 564L1028 559L1021 557L1023 551L1026 545L1021 547L1020 550L1012 555L1011 547L1015 542L1015 540L1017 537L1026 538L1027 542L1032 534L1038 532L1043 530L1045 521L1047 509L1045 504L1045 503L1041 496L1040 487L1037 481L1031 484L1035 493L1035 494L1025 495L1023 493L1014 498L1009 490L1016 486L1018 478L1008 475L1007 468L1009 464L1009 463L1005 465L990 456L979 467L981 471L992 471L994 477L992 481L995 487L994 492L988 495L988 499L985 506L988 510L985 516L986 519L994 520L994 521L990 530L986 530L982 535L980 535L977 539L969 539L970 530L968 529L968 519L966 518L960 519L957 512L950 515L946 513L942 522L948 525L948 530L941 530L939 532L940 537L938 540L935 539L932 535L935 531L932 526L930 527L926 531L927 535L925 538L927 544L927 545L923 546ZM942 564L951 563L952 565L948 571L942 566ZM929 569L924 567L920 568L923 576L929 574ZM929 599L930 600L938 596L933 590L928 594ZM993 590L990 591L990 595L994 590Z"/>
<path fill="#dcc814" d="M772 650L774 652L773 655L768 657L764 652L764 651L754 658L749 662L749 663L751 667L759 670L765 674L774 681L774 682L775 681L781 683L785 675L788 671L788 667L783 663L783 659L790 651L790 647L790 646L786 641L789 634L797 631L803 632L805 636L802 640L802 641L807 647L808 649L812 650L814 655L814 656L819 653L823 657L827 654L826 650L822 648L822 644L821 643L824 638L824 635L829 634L831 636L831 639L833 641L837 639L840 642L842 640L843 634L841 629L843 626L843 624L842 623L841 612L838 611L836 613L834 613L831 610L827 611L825 610L824 609L818 608L816 610L813 607L809 608L807 611L811 615L797 627L782 639L767 650L766 650ZM814 633L815 636L810 639L807 636L812 632ZM818 620L814 616L816 612L821 615L819 620ZM800 695L798 691L791 691L788 696L794 699ZM782 720L781 722L780 721L780 722L777 736L774 749L781 749L783 740L787 740L792 743L799 736L801 736L804 742L808 737L809 742L810 743L812 745L811 748L817 751L828 749L829 743L821 740L820 735L824 731L830 734L835 732L838 744L846 741L848 738L847 736L841 731L844 727L842 722L835 722L834 718L841 713L837 708L832 708L829 712L829 714L825 717L817 714L815 715L810 716L802 714L799 716L795 711L799 706L794 702L789 705L786 703L782 705L782 707L785 712L782 717L782 718ZM809 706L816 707L819 701L818 699L811 697L808 703ZM840 538L848 538L849 532L843 528L841 528L839 534ZM855 538L858 538L854 536ZM869 573L872 576L876 574L875 570L872 568L870 569ZM846 579L848 581L853 578L852 573L845 575ZM875 587L874 591L875 592L880 593L880 594L885 600L887 594L885 592L886 588L883 586L886 582L882 578L877 578L875 580L868 579L865 576L861 578L862 583L865 583L866 586ZM864 625L866 627L865 630L868 631L869 634L866 636L868 640L870 640L871 643L869 645L865 645L865 642L862 639L858 642L857 644L859 647L864 647L864 651L870 651L871 654L869 657L872 661L873 661L878 659L879 655L882 655L884 652L882 648L882 646L884 645L885 646L890 645L890 641L891 640L892 637L888 634L887 631L887 629L885 627L883 627L882 626L883 623L887 624L889 623L888 619L886 618L884 618L881 617L882 615L881 611L880 611L876 614L874 613L871 617L871 618L868 621L867 621L864 622ZM882 638L883 637L885 637L887 640L884 642L882 640ZM858 634L864 633L865 631L861 627L858 630ZM844 658L841 660L839 664L842 668L843 668L845 669L852 668L852 667L858 669L858 672L852 675L853 679L856 681L860 680L860 674L866 673L864 668L866 665L863 660L861 660L859 657L859 653L857 651L855 651L852 656L852 658L847 661ZM946 513L943 513L937 518L937 522L940 523L943 522L947 514ZM981 562L985 563L992 560L991 554L986 551L982 553ZM885 561L883 561L879 566L881 569L880 573L883 577L887 575L888 573L885 570L888 566L892 569L895 567L897 569L902 568L891 560L887 562ZM908 564L905 567L908 571L912 570L913 564ZM920 584L925 581L923 576L917 577L919 583ZM937 596L930 599L933 604L932 607L928 608L928 612L930 616L934 615L936 610L937 610L942 614L944 613L946 607L950 601L945 598L944 595L942 594ZM908 608L914 611L916 609L913 603L909 604L907 607ZM967 610L965 614L966 613L969 612Z"/>
<path fill="#dab600" d="M785 641L789 646L789 651L782 658L782 664L787 667L787 671L784 674L781 682L775 680L774 681L776 689L778 698L782 706L786 704L789 706L794 703L798 706L794 711L798 717L802 715L810 717L816 716L818 714L818 711L824 709L825 701L825 693L818 693L817 699L819 701L816 706L810 705L809 703L812 698L811 695L807 693L807 688L806 686L807 682L802 679L805 673L801 670L805 664L806 664L809 670L809 673L810 675L816 675L819 673L820 671L827 671L828 667L824 664L826 661L831 660L830 655L833 653L836 654L837 658L841 660L845 659L843 654L845 651L847 651L848 655L852 657L855 652L857 652L858 653L858 657L860 661L863 661L866 657L870 657L872 654L870 651L865 650L864 646L860 646L858 643L862 640L864 642L864 646L869 646L872 643L870 640L869 639L867 636L870 634L869 630L866 630L867 627L864 625L865 622L862 620L862 618L859 615L862 613L865 615L868 611L865 609L865 607L861 606L860 604L863 602L865 606L869 608L869 611L870 616L866 617L866 621L868 622L872 618L872 617L875 613L874 611L876 608L869 603L869 601L872 600L873 597L875 596L876 592L875 591L870 591L871 585L867 585L866 583L863 582L862 578L865 577L867 579L871 580L873 575L869 572L865 573L863 570L868 567L867 563L866 561L862 563L857 558L856 558L854 564L852 564L848 560L846 561L840 560L840 568L845 568L844 575L845 575L851 574L852 577L848 581L851 584L851 586L855 588L854 591L851 591L849 588L846 588L845 585L840 584L838 588L839 590L844 590L845 594L842 596L842 601L846 603L845 606L843 607L843 612L845 613L845 617L847 619L846 620L842 624L843 626L840 629L842 634L841 640L840 641L837 638L833 640L832 639L832 636L829 633L823 635L824 638L820 643L821 644L821 649L825 650L826 653L823 656L819 652L814 655L813 650L808 649L802 640L806 636L810 640L816 637L815 633L812 631L806 635L804 631L797 630L790 633L788 634ZM789 696L791 692L797 692L799 695L794 698ZM864 631L864 632L859 633L859 630L861 628ZM852 614L855 617L855 619L853 620L849 618ZM864 596L867 598L867 599L863 601L862 598ZM783 721L782 717L780 722L781 723ZM861 555L866 560L869 556L868 552L862 551ZM881 663L884 662L885 658L882 654L878 655L877 659Z"/>
</g>
<text x="127" y="24.4" class="t" textLength="109" lengthAdjust="spacingAndGlyphs">Predicted PM<tspan font-size="8" dy="1.6">2.5</tspan><tspan dy="-1.6"> (A)</tspan></text>
<text x="289.8" y="24.6" class="t" textLength="151.5" lengthAdjust="spacingAndGlyphs">Predicted Black Carbon (B)</text>
<text x="38.3" y="224.2" class="t" textLength="126.2" lengthAdjust="spacingAndGlyphs">Percent Non-White (C)</text>
<text x="217.6" y="224.2" class="t" textLength="120" lengthAdjust="spacingAndGlyphs">Percent in Poverty (D)</text>
<text x="383" y="224.2" class="t" textLength="126.1" lengthAdjust="spacingAndGlyphs">Asthma Prevalence (E)</text>
<text x="217.4" y="129.2" class="lh" style="font-size:6.8px" textLength="31.4" lengthAdjust="spacingAndGlyphs">Predicted</text>
<text x="217.4" y="137.4" class="lh" style="font-size:6.8px" textLength="37.1" lengthAdjust="spacingAndGlyphs">PM2.5 (µg/</text>
<text x="217.4" y="146.0" class="lh" style="font-size:6.8px" textLength="10.1" lengthAdjust="spacingAndGlyphs">m³)</text>
<rect x="217.4" y="152.3" width="7.8" height="3.5" fill="#b2cef8"/>
<text x="228.2" y="155.90" style="font-size:6.2px;fill:#2a2a2a" textLength="36.4" lengthAdjust="spacingAndGlyphs">11.11 - 13.18</text>
<rect x="217.4" y="161.2" width="7.8" height="3.5" fill="#8ea6ec"/>
<text x="228.2" y="164.80" style="font-size:6.2px;fill:#2a2a2a" textLength="36.4" lengthAdjust="spacingAndGlyphs">13.19 - 13.53</text>
<rect x="217.4" y="171.2" width="7.8" height="3.5" fill="#7694dc"/>
<text x="228.2" y="174.80" style="font-size:6.2px;fill:#2a2a2a" textLength="36.4" lengthAdjust="spacingAndGlyphs">13.54 - 13.68</text>
<rect x="217.4" y="180.4" width="7.8" height="3.5" fill="#5672dc"/>
<text x="228.2" y="184.00" style="font-size:6.2px;fill:#2a2a2a" textLength="36.4" lengthAdjust="spacingAndGlyphs">13.69 - 13.75</text>
<rect x="217.4" y="189.6" width="7.8" height="3.5" fill="#36489a"/>
<text x="228.2" y="193.20" style="font-size:6.2px;fill:#2a2a2a" textLength="36.4" lengthAdjust="spacingAndGlyphs">13.76 - 14.08</text>
<text x="406.2" y="122.8" class="lh" style="font-size:6.8px" textLength="42.7" lengthAdjust="spacingAndGlyphs">Predicted BC</text>
<text x="406.2" y="130.7" class="lh" style="font-size:6.8px" textLength="25.9" lengthAdjust="spacingAndGlyphs">(µg/m³)</text>
<rect x="406.2" y="136.8" width="8.4" height="3.5" fill="#b4f7b0"/>
<text x="416.8" y="140.40" style="font-size:6.5px;fill:#2a2a2a" textLength="32.1" lengthAdjust="spacingAndGlyphs">1.30 - 1.53</text>
<rect x="406.2" y="147.5" width="8.4" height="3.5" fill="#96d890"/>
<text x="416.8" y="151.10" style="font-size:6.5px;fill:#2a2a2a" textLength="32.4" lengthAdjust="spacingAndGlyphs">1.54 - 1.56</text>
<rect x="406.2" y="157.9" width="8.4" height="3.5" fill="#5acc8a"/>
<text x="416.8" y="161.50" style="font-size:6.5px;fill:#2a2a2a" textLength="32.4" lengthAdjust="spacingAndGlyphs">1.57 - 1.58</text>
<rect x="406.2" y="168.0" width="8.4" height="3.5" fill="#3cbd72"/>
<text x="416.8" y="171.60" style="font-size:6.5px;fill:#2a2a2a" textLength="32.4" lengthAdjust="spacingAndGlyphs">1.59 - 1.60</text>
<rect x="406.2" y="177.9" width="8.4" height="3.5" fill="#3a8e76"/>
<text x="416.8" y="181.50" style="font-size:6.5px;fill:#2a2a2a" textLength="32.4" lengthAdjust="spacingAndGlyphs">1.60 - 2.00</text>
<text x="122.6" y="342.9" class="lh" style="font-size:6.8px" textLength="42.1" lengthAdjust="spacingAndGlyphs">Percent Non-</text>
<text x="122.6" y="351.3" class="lh" style="font-size:6.8px" textLength="18.9" lengthAdjust="spacingAndGlyphs">White</text>
<rect x="122.6" y="356.3" width="7.8" height="3.3" fill="#fde8a8"/>
<text x="132.2" y="359.70" style="font-size:4.9px;fill:#444" textLength="23.4" lengthAdjust="spacingAndGlyphs">0 - 27.54%</text>
<rect x="122.6" y="364.1" width="7.8" height="3.3" fill="#fec46a"/>
<text x="132.2" y="367.50" style="font-size:4.9px;fill:#444" textLength="32.9" lengthAdjust="spacingAndGlyphs">27.55 - 57.14%</text>
<rect x="122.6" y="371.8" width="7.8" height="3.3" fill="#fd9a48"/>
<text x="132.2" y="375.20" style="font-size:4.9px;fill:#444" textLength="32.9" lengthAdjust="spacingAndGlyphs">57.15 - 83.37%</text>
<rect x="122.6" y="379.4" width="7.8" height="3.3" fill="#fa6440"/>
<text x="132.2" y="382.80" style="font-size:4.9px;fill:#444" textLength="32.7" lengthAdjust="spacingAndGlyphs">83.38 - 95.73%</text>
<rect x="122.6" y="386.8" width="7.8" height="3.3" fill="#f24646"/>
<text x="132.2" y="390.20" style="font-size:4.9px;fill:#444" textLength="35.6" lengthAdjust="spacingAndGlyphs">95.74 - 100.00%</text>
<text x="306.8" y="346.1" class="lh" style="font-size:6.8px" textLength="32.1" lengthAdjust="spacingAndGlyphs">Percent in</text>
<text x="306.8" y="354.3" class="lh" style="font-size:6.8px" textLength="24.8" lengthAdjust="spacingAndGlyphs">Poverty</text>
<rect x="306.8" y="359.7" width="8.0" height="3.3" fill="#fde0e0"/>
<text x="317.2" y="363.10" style="font-size:4.9px;fill:#444" textLength="22.7" lengthAdjust="spacingAndGlyphs">0 - 12.04%</text>
<rect x="306.8" y="367.2" width="8.0" height="3.3" fill="#fbb4b4"/>
<text x="317.2" y="370.60" style="font-size:4.9px;fill:#444" textLength="28.8" lengthAdjust="spacingAndGlyphs">12.05 - 17.39</text>
<rect x="306.8" y="375.1" width="8.0" height="3.3" fill="#f88a8a"/>
<text x="317.2" y="378.50" style="font-size:4.9px;fill:#444" textLength="32.3" lengthAdjust="spacingAndGlyphs">17.40 - 21.71%</text>
<rect x="306.8" y="382.6" width="8.0" height="3.3" fill="#f56262"/>
<text x="317.2" y="386.00" style="font-size:4.9px;fill:#444" textLength="32.3" lengthAdjust="spacingAndGlyphs">21.72 - 26.86%</text>
<rect x="306.8" y="390.4" width="8.0" height="3.3" fill="#f04444"/>
<text x="317.2" y="393.80" style="font-size:4.9px;fill:#444" textLength="32.3" lengthAdjust="spacingAndGlyphs">26.86 - 80.80%</text>
<text x="467.2" y="336.1" class="lh" style="font-size:6.8px" textLength="24.5" lengthAdjust="spacingAndGlyphs">Athsma</text>
<text x="467.2" y="344.5" class="lh" style="font-size:6.8px" textLength="36.3" lengthAdjust="spacingAndGlyphs">Prevalence</text>
<rect x="467.2" y="349.5" width="7.9" height="3.4" fill="#fdfcb0"/>
<text x="477.2" y="353.00" style="font-size:4.9px;fill:#444" textLength="26.8" lengthAdjust="spacingAndGlyphs">8.20 - 9.80%</text>
<rect x="467.2" y="357.4" width="7.9" height="3.4" fill="#f2f04a"/>
<text x="477.2" y="360.90" style="font-size:4.9px;fill:#444" textLength="29.5" lengthAdjust="spacingAndGlyphs">9.81 - 10.90%</text>
<rect x="467.2" y="364.9" width="7.9" height="3.4" fill="#f8e400"/>
<text x="477.2" y="368.40" style="font-size:4.9px;fill:#444" textLength="32.7" lengthAdjust="spacingAndGlyphs">10.91 - 12.30%</text>
<rect x="467.2" y="372.2" width="7.9" height="3.4" fill="#dcc814"/>
<text x="477.2" y="375.70" style="font-size:4.9px;fill:#444" textLength="33.2" lengthAdjust="spacingAndGlyphs">12.31 - 13.40%</text>
<rect x="467.2" y="379.9" width="7.9" height="3.4" fill="#dab600"/>
<text x="477.2" y="383.40" style="font-size:4.9px;fill:#444" textLength="32.7" lengthAdjust="spacingAndGlyphs">13.41 - 16.30%</text>
<g>
<rect x="415.8" y="403.5" width="55.6" height="2.4" fill="#000"/>
<rect x="429.7" y="404.1" width="13.4" height="1.3" fill="#fff"/>
<text x="414.2" y="401.5" class="sb">0</text>
<text x="425.9" y="401.5" class="sb">2.5</text>
<text x="442" y="401.5" class="sb">5</text>
<text x="469.3" y="401.5" class="sb" textLength="5.4" lengthAdjust="spacingAndGlyphs">10</text>
<text x="473.4" y="406.2" class="sb" textLength="26.4" lengthAdjust="spacingAndGlyphs">Kilometers</text>
</g>
<g>
<text x="523.9" y="382.5" style="font-size:8.4px" class="na">N</text>
<path d="M526.7,384.9 L521.1,405.8 L526.9,398.7 Z" fill="#000" stroke="#000" stroke-width="0.5" stroke-linejoin="round"/>
<path d="M526.7,384.9 L533.6,405.4 L526.9,398.7 Z" fill="#fff" stroke="#000" stroke-width="0.7" stroke-linejoin="round"/>
</g>
</svg>
</body></html>
